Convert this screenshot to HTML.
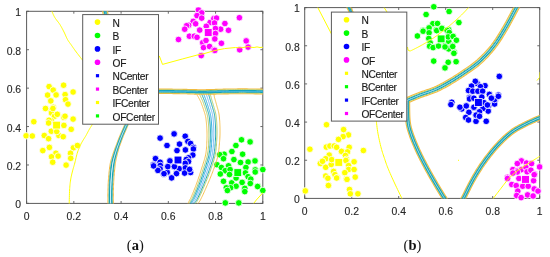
<!DOCTYPE html><html><head><meta charset="utf-8"><style>html,body{margin:0;padding:0;background:#fff;}svg{display:block;}text{font-family:"Liberation Sans",Arial,sans-serif;font-size:10.4px;fill:#262626;stroke:#262626;stroke-width:0.12px;}.lg{font-size:10.2px;letter-spacing:-0.32px;fill:#1a1a1a;stroke:#1a1a1a;stroke-width:0.15px;}.cap{font-family:"Liberation Serif","Times New Roman",serif;font-size:14.5px;fill:#111;stroke:none;}.cap tspan{font-weight:bold;}</style></head><body><svg width="550" height="257" viewBox="0 0 550 257"><defs><clipPath id="cL"><rect x="26.6" y="11.3" width="236.20000000000002" height="192.1"/></clipPath><clipPath id="cR"><rect x="304.7" y="7.6" width="235.00000000000006" height="190.8"/></clipPath><clipPath id="cLd"><rect x="22.6" y="7.300000000000001" width="244.20000000000002" height="200.1"/></clipPath><clipPath id="cRd"><rect x="300.7" y="3.5999999999999996" width="243.00000000000006" height="198.8"/></clipPath><clipPath id="cLb"><rect x="26.6" y="92" width="236.20000000000002" height="111.4"/></clipPath></defs><rect width="550" height="257" fill="#fff"/><rect x="26.6" y="11.3" width="236.20000000000002" height="192.1" fill="none" stroke="#5a5a5a" stroke-width="1.0"/><path d="M26.60,203.4v-2.4M26.60,11.3v2.4M26.6,203.40h2.4M262.8,203.40h-2.4M73.84,203.4v-2.4M73.84,11.3v2.4M26.6,164.98h2.4M262.8,164.98h-2.4M121.08,203.4v-2.4M121.08,11.3v2.4M26.6,126.56h2.4M262.8,126.56h-2.4M168.32,203.4v-2.4M168.32,11.3v2.4M26.6,88.14h2.4M262.8,88.14h-2.4M215.56,203.4v-2.4M215.56,11.3v2.4M26.6,49.72h2.4M262.8,49.72h-2.4M262.80,203.4v-2.4M262.80,11.3v2.4M26.6,11.30h2.4M262.8,11.30h-2.4" stroke="#5a5a5a" stroke-width="0.9" fill="none"/><text x="26.6" y="219.5" text-anchor="middle">0</text><text x="21.1" y="208.4" text-anchor="end">0</text><text x="73.8" y="219.5" text-anchor="middle">0.2</text><text x="21.1" y="170.0" text-anchor="end">0.2</text><text x="121.1" y="219.5" text-anchor="middle">0.4</text><text x="21.1" y="131.6" text-anchor="end">0.4</text><text x="168.3" y="219.5" text-anchor="middle">0.6</text><text x="21.1" y="93.1" text-anchor="end">0.6</text><text x="215.6" y="219.5" text-anchor="middle">0.8</text><text x="21.1" y="54.7" text-anchor="end">0.8</text><text x="262.8" y="219.5" text-anchor="middle">1</text><text x="21.1" y="16.3" text-anchor="end">1</text><g fill="#ffff00" stroke="#fff" stroke-width="0.8" clip-path="url(#cLd)"><circle cx="49.1" cy="86.6" r="3.3"/><circle cx="63.6" cy="85.2" r="3.3"/><circle cx="53.2" cy="90.1" r="3.3"/><circle cx="47.6" cy="95.1" r="3.3"/><circle cx="56.1" cy="94.9" r="3.3"/><circle cx="65.1" cy="94.6" r="3.3"/><circle cx="73.1" cy="92.0" r="3.3"/><circle cx="50.8" cy="100.9" r="3.3"/><circle cx="65.5" cy="99.7" r="3.3"/><circle cx="68.0" cy="104.1" r="3.3"/><circle cx="45.5" cy="108.5" r="3.3"/><circle cx="53.2" cy="107.3" r="3.3"/><circle cx="51.3" cy="111.4" r="3.3"/><circle cx="51.5" cy="113" r="3.3"/><circle cx="54.5" cy="116.3" r="3.3"/><circle cx="63.9" cy="117.4" r="3.3"/><circle cx="73.1" cy="119.1" r="3.3"/><circle cx="33.8" cy="121.7" r="3.3"/><circle cx="51.3" cy="120.7" r="3.3"/><circle cx="63.9" cy="125.4" r="3.3"/><circle cx="71.2" cy="129.3" r="3.3"/><circle cx="51.3" cy="131.2" r="3.3"/><circle cx="26.1" cy="135.8" r="3.3"/><circle cx="32.3" cy="136" r="3.3"/><circle cx="44.3" cy="135.5" r="3.3"/><circle cx="48.6" cy="138.7" r="3.3"/><circle cx="58.8" cy="135.5" r="3.3"/><circle cx="63.2" cy="136.7" r="3.3"/><circle cx="49.4" cy="147.4" r="3.3"/><circle cx="42.8" cy="150.6" r="3.3"/><circle cx="55.9" cy="153.2" r="3.3"/><circle cx="51.5" cy="156.8" r="3.3"/><circle cx="58.1" cy="156.1" r="3.3"/><circle cx="52.7" cy="162.2" r="3.3"/><circle cx="66.1" cy="165.1" r="3.3"/><circle cx="73.4" cy="147.8" r="3.3"/><circle cx="77.4" cy="145.5" r="3.3"/><circle cx="70.5" cy="153.2" r="3.3"/><circle cx="70.7" cy="158.3" r="3.3"/><circle cx="57.3" cy="114.3" r="3.3"/><circle cx="65" cy="116.2" r="3.3"/><circle cx="49" cy="120.2" r="3.3"/><circle cx="48.6" cy="123" r="3.3"/><circle cx="56.7" cy="131.5" r="3.3"/><circle cx="52.9" cy="108.5" r="3.3"/><rect x="52.7" y="121.2" width="7.8" height="7.8"/></g><g fill="#ff00ff" stroke="#fff" stroke-width="0.8" clip-path="url(#cLd)"><circle cx="198.4" cy="9.9" r="3.3"/><circle cx="201.7" cy="12.9" r="3.3"/><circle cx="197" cy="15.6" r="3.3"/><circle cx="201.7" cy="18.1" r="3.3"/><circle cx="193.2" cy="21.4" r="3.3"/><circle cx="195.6" cy="23.8" r="3.3"/><circle cx="188.6" cy="25.2" r="3.3"/><circle cx="186.6" cy="25.7" r="3.3"/><circle cx="184.7" cy="29.2" r="3.3"/><circle cx="210.1" cy="22.5" r="3.3"/><circle cx="199.7" cy="30.1" r="3.3"/><circle cx="206.3" cy="26.3" r="3.3"/><circle cx="213.9" cy="18.6" r="3.3"/><circle cx="216.5" cy="18.1" r="3.3"/><circle cx="214.5" cy="23" r="3.3"/><circle cx="224.9" cy="23.5" r="3.3"/><circle cx="239.4" cy="17.7" r="3.3"/><circle cx="220.6" cy="29.2" r="3.3"/><circle cx="228.5" cy="30.3" r="3.3"/><circle cx="215.4" cy="28.5" r="3.3"/><circle cx="189.4" cy="36.2" r="3.3"/><circle cx="178.5" cy="39.5" r="3.3"/><circle cx="194.3" cy="36.2" r="3.3"/><circle cx="197" cy="37.3" r="3.3"/><circle cx="202.7" cy="42.7" r="3.3"/><circle cx="203.5" cy="47.6" r="3.3"/><circle cx="209.5" cy="46.5" r="3.3"/><circle cx="213.9" cy="49.8" r="3.3"/><circle cx="201.2" cy="55.6" r="3.3"/><circle cx="215.4" cy="33.5" r="3.3"/><circle cx="214.8" cy="38.9" r="3.3"/><circle cx="206" cy="40.5" r="3.3"/><circle cx="221.4" cy="43.3" r="3.3"/><circle cx="214.8" cy="50.4" r="3.3"/><circle cx="239.7" cy="49.8" r="3.3"/><circle cx="246.2" cy="40.9" r="3.3"/><circle cx="248.1" cy="47.1" r="3.3"/><rect x="204.3" y="28.6" width="7.8" height="7.8"/></g><g fill="#0000ff" stroke="#fff" stroke-width="0.8" clip-path="url(#cLd)"><circle cx="160.1" cy="138.1" r="3.3"/><circle cx="174.1" cy="133.9" r="3.3"/><circle cx="185.2" cy="136.2" r="3.3"/><circle cx="187.9" cy="141.4" r="3.3"/><circle cx="190.6" cy="143.5" r="3.3"/><circle cx="193.4" cy="147.4" r="3.3"/><circle cx="167" cy="145.5" r="3.3"/><circle cx="179.5" cy="144.1" r="3.3"/><circle cx="177" cy="150.6" r="3.3"/><circle cx="185.4" cy="149.9" r="3.3"/><circle cx="193.4" cy="149" r="3.3"/><circle cx="192.8" cy="155.1" r="3.3"/><circle cx="188.5" cy="157.8" r="3.3"/><circle cx="186.3" cy="159.5" r="3.3"/><circle cx="188.5" cy="161.6" r="3.3"/><circle cx="185.2" cy="163.3" r="3.3"/><circle cx="155.5" cy="158.6" r="3.3"/><circle cx="153.3" cy="164.9" r="3.3"/><circle cx="160.1" cy="162.2" r="3.3"/><circle cx="160.3" cy="165.5" r="3.3"/><circle cx="160.1" cy="168.9" r="3.3"/><circle cx="169.9" cy="160.9" r="3.3"/><circle cx="167.7" cy="166.8" r="3.3"/><circle cx="174.3" cy="167.1" r="3.3"/><circle cx="179.2" cy="168.7" r="3.3"/><circle cx="185.4" cy="167.9" r="3.3"/><circle cx="190.6" cy="172.5" r="3.3"/><circle cx="184.6" cy="173.1" r="3.3"/><circle cx="176.5" cy="173.6" r="3.3"/><circle cx="167.2" cy="172.2" r="3.3"/><circle cx="163.9" cy="174.2" r="3.3"/><circle cx="157.9" cy="170.4" r="3.3"/><circle cx="153.6" cy="165.9" r="3.3"/><circle cx="167.8" cy="166.6" r="3.3"/><circle cx="164" cy="173.7" r="3.3"/><circle cx="171.6" cy="177.9" r="3.3"/><circle cx="174.4" cy="166.6" r="3.3"/><circle cx="189.6" cy="169.4" r="3.3"/><rect x="174.1" y="156.1" width="7.8" height="7.8"/></g><g fill="#00ff00" stroke="#fff" stroke-width="0.8" clip-path="url(#cLd)"><circle cx="241.5" cy="139.8" r="3.3"/><circle cx="250.1" cy="141.9" r="3.3"/><circle cx="235.9" cy="145.5" r="3.3"/><circle cx="231.9" cy="151.5" r="3.3"/><circle cx="224.1" cy="154.2" r="3.3"/><circle cx="242.6" cy="154.2" r="3.3"/><circle cx="219.7" cy="154.7" r="3.3"/><circle cx="223.5" cy="158.7" r="3.3"/><circle cx="233.9" cy="159.6" r="3.3"/><circle cx="240.5" cy="162.5" r="3.3"/><circle cx="248.1" cy="162" r="3.3"/><circle cx="255" cy="160.9" r="3.3"/><circle cx="217" cy="164.7" r="3.3"/><circle cx="221.4" cy="167.5" r="3.3"/><circle cx="228.5" cy="165.8" r="3.3"/><circle cx="225.2" cy="170.7" r="3.3"/><circle cx="230.1" cy="169.6" r="3.3"/><circle cx="220.3" cy="174" r="3.3"/><circle cx="229.5" cy="174.5" r="3.3"/><circle cx="245.9" cy="167.5" r="3.3"/><circle cx="255.2" cy="169.9" r="3.3"/><circle cx="262.8" cy="169.6" r="3.3"/><circle cx="245.4" cy="172.9" r="3.3"/><circle cx="248.1" cy="176.7" r="3.3"/><circle cx="223.5" cy="181.3" r="3.3"/><circle cx="231.7" cy="182.9" r="3.3"/><circle cx="236.1" cy="186.2" r="3.3"/><circle cx="230.6" cy="187.8" r="3.3"/><circle cx="226.3" cy="187.8" r="3.3"/><circle cx="227.4" cy="190.5" r="3.3"/><circle cx="242.1" cy="182.4" r="3.3"/><circle cx="244.8" cy="188.4" r="3.3"/><circle cx="244.8" cy="191.6" r="3.3"/><circle cx="250.8" cy="179.1" r="3.3"/><circle cx="250.3" cy="183.5" r="3.3"/><circle cx="257.9" cy="186.2" r="3.3"/><circle cx="262.8" cy="190.5" r="3.3"/><circle cx="236.1" cy="178" r="3.3"/><circle cx="255.2" cy="172" r="3.3"/><circle cx="257.6" cy="186.5" r="3.3"/><circle cx="225.3" cy="202.9" r="3.3"/><circle cx="238.8" cy="202.9" r="3.3"/><rect x="233.9" y="168.7" width="7.8" height="7.8"/></g><path d="M51.60,10.60 L51.83,11.13 L52.13,11.84 L52.48,12.68 L52.88,13.61 L53.32,14.60 L53.79,15.61 L54.29,16.59 L54.80,17.50 L55.35,18.37 L55.96,19.23 L56.62,20.10 L57.29,20.96 L57.98,21.83 L58.65,22.71 L59.30,23.60 L59.90,24.50 L60.46,25.41 L61.01,26.34 L61.54,27.28 L62.05,28.22 L62.55,29.17 L63.04,30.11 L63.52,31.06 L64.00,32.00 L64.46,32.95 L64.91,33.91 L65.33,34.89 L65.76,35.86 L66.18,36.81 L66.60,37.74 L67.04,38.64 L67.50,39.50 L67.98,40.31 L68.46,41.07 L68.96,41.80 L69.47,42.51 L69.98,43.21 L70.49,43.90 L71.00,44.59 L71.50,45.30 L71.98,45.99 L72.42,46.64 L72.85,47.28 L73.29,47.92 L73.76,48.59 L74.27,49.31 L74.84,50.11 L75.50,51.00 L76.30,52.07 L77.26,53.33 L78.32,54.70 L79.40,56.11 L80.45,57.47 L81.41,58.70 L82.21,59.74 L82.80,60.50 M159.3,55.9 L162.5,64.4 L182.7,58.9 L198,54.8 L205,53.4 L214.8,50.5 L224.6,48.6 L235.5,47.5 L240,47.9 L244,47.4 L248.1,46.5 L251,47.3 L254.1,47.5 L257,46.9 L260,47.5 L264,47.1 M93.00,123.50 L92.73,123.92 L92.37,124.46 L91.94,125.12 L91.47,125.84 L90.97,126.62 L90.46,127.43 L89.96,128.23 L89.50,129.00 L89.07,129.76 L88.65,130.53 L88.24,131.31 L87.82,132.11 L87.39,132.93 L86.95,133.77 L86.49,134.62 L86.00,135.50 L85.47,136.40 L84.91,137.31 L84.32,138.25 L83.72,139.21 L83.11,140.18 L82.52,141.17 L81.94,142.18 L81.40,143.20 L80.88,144.23 L80.37,145.27 L79.87,146.32 L79.39,147.39 L78.92,148.49 L78.46,149.62 L78.02,150.79 L77.60,152.00 L77.20,153.28 L76.82,154.64 L76.46,156.05 L76.12,157.49 L75.78,158.92 L75.46,160.34 L75.13,161.71 L74.80,163.00 L74.47,164.23 L74.14,165.41 L73.81,166.57 L73.48,167.69 L73.17,168.79 L72.86,169.87 L72.57,170.94 L72.30,172.00 L72.04,173.03 L71.80,174.02 L71.57,174.99 L71.36,175.94 L71.15,176.90 L70.96,177.88 L70.77,178.91 L70.60,180.00 L70.44,181.13 L70.29,182.27 L70.15,183.43 L70.02,184.62 L69.90,185.87 L69.79,187.17 L69.69,188.54 L69.60,190.00 L69.52,191.65 L69.45,193.55 L69.39,195.57 L69.34,197.62 L69.29,199.60 L69.26,201.39 L69.23,202.89 L69.20,204.00 M253.6,203.5 L256.3,200 L263.9,191.6" fill="none" stroke="#ffff00" stroke-width="1.0" clip-path="url(#cL)"/><g fill="none" clip-path="url(#cL)" stroke-linejoin="round"><path d="M106.67,5.65L106.72,5.94L106.77,6.30L106.83,6.73L106.90,7.21L106.98,7.72L107.06,8.27L107.15,8.84L107.23,9.42L107.32,10.00L107.41,10.57L107.49,11.11L107.57,11.62L107.65,12.14L107.74,12.68L107.83,13.25L107.93,13.83L108.03,14.41L108.12,14.98L108.22,15.53L108.30,16.04L108.38,16.52L108.46,16.95L108.52,17.31L108.57,17.60" stroke="#f5bb3f" stroke-width="1.1"/><path d="M101.93,6.35L101.97,6.64L102.02,7.00L102.08,7.43L102.16,7.91L102.23,8.43L102.31,8.98L102.40,9.55L102.49,10.13L102.57,10.72L102.66,11.29L102.75,11.85L102.83,12.38L102.91,12.90L103.00,13.46L103.10,14.03L103.20,14.62L103.29,15.20L103.39,15.77L103.48,16.33L103.57,16.85L103.65,17.32L103.72,17.75L103.78,18.11L103.83,18.40" stroke="#f5bb3f" stroke-width="1.1"/><path d="M105.77,5.78L105.82,6.07L105.87,6.44L105.93,6.86L106.00,7.34L106.08,7.86L106.16,8.41L106.24,8.98L106.33,9.56L106.42,10.14L106.50,10.71L106.59,11.25L106.67,11.77L106.75,12.28L106.84,12.83L106.93,13.40L107.03,13.98L107.13,14.56L107.22,15.13L107.32,15.68L107.40,16.20L107.49,16.67L107.56,17.10L107.62,17.46L107.67,17.75" stroke="#a6cb62" stroke-width="1.0"/><path d="M102.83,6.22L102.87,6.51L102.92,6.87L102.99,7.29L103.06,7.77L103.13,8.29L103.22,8.84L103.30,9.42L103.39,10.00L103.48,10.58L103.56,11.16L103.65,11.71L103.73,12.23L103.81,12.76L103.90,13.31L104.00,13.88L104.10,14.47L104.19,15.05L104.29,15.62L104.38,16.17L104.47,16.69L104.55,17.17L104.62,17.60L104.68,17.96L104.73,18.25" stroke="#a6cb62" stroke-width="1.0"/><path d="M105.01,5.89L105.06,6.18L105.11,6.55L105.17,6.97L105.24,7.45L105.32,7.97L105.40,8.52L105.48,9.09L105.57,9.67L105.66,10.25L105.75,10.82L105.83,11.37L105.91,11.89L105.99,12.40L106.08,12.95L106.18,13.52L106.27,14.10L106.37,14.68L106.47,15.26L106.56,15.81L106.65,16.32L106.73,16.80L106.80,17.23L106.86,17.59L106.91,17.88" stroke="#17a3b5" stroke-width="1.2"/><path d="M103.59,6.11L103.63,6.40L103.68,6.76L103.75,7.18L103.82,7.66L103.89,8.18L103.98,8.73L104.06,9.30L104.15,9.88L104.23,10.47L104.32,11.04L104.41,11.59L104.49,12.11L104.57,12.63L104.66,13.19L104.76,13.76L104.85,14.34L104.95,14.92L105.05,15.49L105.14,16.05L105.23,16.56L105.31,17.04L105.38,17.47L105.44,17.83L105.49,18.12" stroke="#17a3b5" stroke-width="1.2"/><path d="M104.30,6.00L104.34,6.29L104.40,6.65L104.46,7.08L104.53,7.56L104.61,8.07L104.69,8.62L104.77,9.20L104.86,9.78L104.95,10.36L105.03,10.93L105.12,11.48L105.20,12.00L105.28,12.52L105.37,13.07L105.47,13.64L105.56,14.22L105.66,14.80L105.76,15.38L105.85,15.93L105.94,16.44L106.02,16.92L106.09,17.35L106.15,17.71L106.20,18.00" stroke="#2eaee0" stroke-width="0.9"/></g><g fill="none" clip-path="url(#cL)" stroke-linejoin="round"><path d="M129.65,119.42L129.59,119.64L129.53,119.90L129.46,120.23L129.38,120.60L129.29,121.02L129.19,121.49L129.06,121.99L128.92,122.54L128.75,123.13L128.56,123.75L128.34,124.41L128.09,125.10L127.81,125.83L127.49,126.61L127.14,127.43L126.77,128.29L126.38,129.18L125.97,130.10L125.56,131.03L125.14,131.96L124.73,132.90L124.33,133.83L123.94,134.75L123.57,135.64L123.22,136.54L122.87,137.45L122.51,138.37L122.16,139.30L121.80,140.23L121.45,141.16L121.11,142.09L120.77,143.01L120.44,143.92L120.11,144.83L119.80,145.72L119.50,146.60L119.23,147.47L118.96,148.34L118.70,149.20L118.45,150.06L118.20,150.90L117.97,151.74L117.74,152.57L117.52,153.39L117.30,154.20L117.10,155.00L116.91,155.80L116.72,156.59L116.54,157.36L116.38,158.09L116.23,158.78L116.08,159.44L115.95,160.09L115.83,160.74L115.71,161.40L115.60,162.08L115.49,162.81L115.39,163.59L115.28,164.44L115.17,165.37L115.04,166.39L114.91,167.48L114.77,168.64L114.64,169.85L114.52,171.10L114.39,172.39L114.28,173.69L114.16,175.01L114.06,176.33L113.96,177.64L113.87,178.93L113.79,180.18L113.72,181.42L113.66,182.67L113.60,183.94L113.55,185.22L113.50,186.50L113.47,187.77L113.44,189.03L113.41,190.28L113.39,191.51L113.37,192.72L113.36,193.89L113.35,195.03L113.34,196.15L113.35,197.30L113.36,198.46L113.37,199.62L113.39,200.76L113.42,201.87L113.44,202.93L113.47,203.92L113.50,204.84L113.52,205.66L113.54,206.37L113.55,206.94" stroke="#f5bb3f" stroke-width="1.0"/><path d="M126.35,118.58L126.28,118.86L126.21,119.18L126.14,119.52L126.06,119.88L125.97,120.28L125.88,120.70L125.77,121.16L125.64,121.64L125.49,122.16L125.32,122.71L125.13,123.29L124.91,123.90L124.65,124.57L124.35,125.30L124.02,126.09L123.65,126.93L123.27,127.81L122.86,128.72L122.45,129.65L122.03,130.59L121.62,131.54L121.20,132.49L120.81,133.44L120.43,134.36L120.05,135.27L119.68,136.18L119.30,137.11L118.93,138.04L118.55,138.97L118.18,139.91L117.82,140.84L117.46,141.77L117.11,142.69L116.76,143.61L116.43,144.51L116.10,145.40L115.76,146.27L115.43,147.13L115.10,147.98L114.78,148.83L114.47,149.67L114.16,150.51L113.86,151.34L113.57,152.17L113.28,152.99L113.00,153.80L112.74,154.61L112.48,155.41L112.24,156.17L112.00,156.89L111.78,157.58L111.57,158.26L111.36,158.95L111.16,159.64L110.96,160.35L110.77,161.10L110.58,161.89L110.39,162.73L110.21,163.64L110.03,164.63L109.87,165.69L109.71,166.83L109.56,168.02L109.41,169.26L109.26,170.55L109.12,171.86L108.98,173.20L108.85,174.54L108.73,175.89L108.61,177.22L108.50,178.54L108.41,179.82L108.32,181.10L108.25,182.39L108.18,183.70L108.12,185.00L108.07,186.31L108.02,187.61L107.98,188.89L107.95,190.16L107.92,191.41L107.89,192.63L107.87,193.82L107.85,194.97L107.84,196.14L107.85,197.33L107.86,198.52L107.87,199.71L107.89,200.88L107.92,202.00L107.95,203.07L107.97,204.08L108.00,204.99L108.02,205.80L108.04,206.49L108.05,207.06" stroke="#f5bb3f" stroke-width="1.0"/><path d="M129.02,119.26L128.96,119.49L128.90,119.77L128.83,120.09L128.75,120.46L128.66,120.88L128.56,121.34L128.44,121.83L128.29,122.37L128.13,122.94L127.94,123.55L127.73,124.19L127.49,124.87L127.21,125.59L126.89,126.36L126.55,127.18L126.18,128.03L125.79,128.92L125.38,129.83L124.97,130.76L124.55,131.70L124.14,132.64L123.74,133.58L123.35,134.50L122.98,135.40L122.62,136.30L122.26,137.21L121.90,138.13L121.54,139.06L121.19,139.99L120.83,140.92L120.48,141.85L120.14,142.77L119.80,143.69L119.48,144.60L119.16,145.49L118.85,146.37L118.57,147.25L118.29,148.11L118.02,148.97L117.75,149.82L117.49,150.67L117.24,151.51L117.00,152.33L116.77,153.16L116.54,153.97L116.32,154.77L116.11,155.57L115.91,156.36L115.73,157.13L115.55,157.86L115.38,158.55L115.23,159.22L115.08,159.87L114.94,160.53L114.81,161.20L114.68,161.90L114.56,162.64L114.44,163.43L114.32,164.29L114.20,165.23L114.06,166.26L113.92,167.36L113.78,168.52L113.65,169.74L113.52,171.00L113.39,172.29L113.27,173.60L113.15,174.92L113.05,176.25L112.94,177.56L112.85,178.85L112.77,180.11L112.69,181.36L112.63,182.62L112.57,183.90L112.52,185.18L112.47,186.46L112.43,187.74L112.40,189.01L112.37,190.26L112.35,191.49L112.33,192.70L112.32,193.88L112.30,195.02L112.30,196.15L112.30,197.30L112.31,198.47L112.33,199.64L112.35,200.79L112.37,201.90L112.40,202.96L112.43,203.95L112.45,204.87L112.47,205.68L112.49,206.39L112.50,206.96" stroke="#5cb89a" stroke-width="0.9"/><path d="M126.98,118.74L126.91,119.01L126.84,119.31L126.77,119.65L126.69,120.02L126.60,120.42L126.51,120.85L126.39,121.32L126.26,121.81L126.11,122.35L125.94,122.91L125.74,123.50L125.51,124.13L125.25,124.81L124.95,125.55L124.61,126.35L124.25,127.19L123.86,128.07L123.46,128.98L123.04,129.91L122.62,130.85L122.21,131.80L121.80,132.75L121.40,133.69L121.02,134.60L120.65,135.51L120.28,136.42L119.91,137.35L119.54,138.28L119.17,139.21L118.81,140.14L118.44,141.08L118.09,142.00L117.74,142.93L117.40,143.84L117.07,144.74L116.75,145.63L116.42,146.50L116.10,147.36L115.79,148.21L115.48,149.06L115.18,149.91L114.88,150.74L114.60,151.58L114.32,152.40L114.05,153.22L113.78,154.03L113.53,154.84L113.29,155.64L113.05,156.40L112.84,157.12L112.63,157.81L112.43,158.49L112.23,159.16L112.05,159.85L111.86,160.55L111.69,161.29L111.51,162.07L111.34,162.90L111.17,163.79L111.00,164.77L110.85,165.82L110.70,166.95L110.55,168.14L110.40,169.38L110.26,170.65L110.12,171.96L109.99,173.29L109.86,174.63L109.74,175.97L109.63,177.30L109.52,178.61L109.43,179.89L109.35,181.16L109.27,182.45L109.21,183.74L109.15,185.04L109.10,186.34L109.06,187.64L109.02,188.92L108.98,190.18L108.96,191.43L108.93,192.65L108.91,193.83L108.90,194.98L108.89,196.14L108.89,197.32L108.90,198.51L108.92,199.69L108.94,200.86L108.96,201.98L108.99,203.05L109.02,204.05L109.04,204.96L109.07,205.77L109.08,206.47L109.10,207.04" stroke="#5cb89a" stroke-width="0.9"/><path d="M128.59,119.15L128.53,119.39L128.47,119.67L128.40,120.00L128.32,120.37L128.23,120.78L128.13,121.23L128.01,121.73L127.87,122.25L127.71,122.82L127.52,123.42L127.31,124.05L127.07,124.71L126.80,125.42L126.49,126.19L126.14,127.00L125.77,127.86L125.38,128.74L124.98,129.65L124.57,130.58L124.15,131.52L123.74,132.47L123.33,133.40L122.94,134.33L122.57,135.23L122.21,136.13L121.85,137.04L121.48,137.97L121.12,138.89L120.76,139.82L120.41,140.76L120.06,141.69L119.71,142.61L119.37,143.53L119.04,144.44L118.72,145.33L118.41,146.22L118.12,147.09L117.83,147.95L117.55,148.81L117.27,149.67L117.01,150.51L116.75,151.35L116.50,152.18L116.25,153.00L116.02,153.81L115.79,154.62L115.57,155.42L115.36,156.21L115.17,156.98L114.98,157.70L114.80,158.39L114.64,159.06L114.48,159.72L114.33,160.39L114.19,161.06L114.06,161.77L113.92,162.52L113.79,163.32L113.66,164.19L113.53,165.13L113.38,166.17L113.24,167.27L113.10,168.44L112.97,169.66L112.83,170.92L112.71,172.22L112.58,173.54L112.46,174.86L112.35,176.19L112.25,177.51L112.15,178.80L112.07,180.06L111.99,181.32L111.92,182.59L111.86,183.86L111.81,185.15L111.76,186.44L111.72,187.72L111.69,188.99L111.66,190.24L111.64,191.48L111.62,192.69L111.60,193.87L111.59,195.01L111.58,196.15L111.59,197.31L111.60,198.48L111.61,199.65L111.63,200.80L111.66,201.91L111.69,202.98L111.71,203.97L111.74,204.89L111.76,205.70L111.78,206.41L111.79,206.98" stroke="#17a3b5" stroke-width="1.3"/><path d="M127.41,118.85L127.34,119.11L127.27,119.41L127.20,119.74L127.12,120.11L127.04,120.51L126.94,120.95L126.82,121.42L126.69,121.93L126.53,122.47L126.36,123.04L126.16,123.65L125.93,124.29L125.66,124.97L125.36,125.72L125.02,126.52L124.65,127.37L124.26,128.25L123.86,129.16L123.45,130.09L123.03,131.03L122.61,131.98L122.20,132.92L121.81,133.86L121.43,134.77L121.07,135.67L120.70,136.59L120.33,137.51L119.96,138.44L119.59,139.37L119.23,140.31L118.87,141.24L118.52,142.17L118.17,143.09L117.84,144.00L117.51,144.90L117.19,145.78L116.87,146.65L116.56,147.52L116.25,148.37L115.95,149.22L115.66,150.07L115.38,150.90L115.10,151.73L114.83,152.56L114.57,153.38L114.32,154.19L114.07,154.99L113.84,155.79L113.61,156.55L113.40,157.27L113.20,157.97L113.01,158.64L112.83,159.31L112.65,159.99L112.48,160.69L112.32,161.42L112.15,162.19L111.99,163.01L111.83,163.90L111.67,164.87L111.52,165.91L111.37,167.04L111.23,168.22L111.08,169.45L110.94,170.73L110.81,172.03L110.68,173.36L110.55,174.69L110.43,176.03L110.32,177.36L110.22,178.66L110.13,179.94L110.05,181.20L109.98,182.48L109.91,183.78L109.86,185.07L109.81,186.37L109.76,187.66L109.73,188.94L109.69,190.20L109.67,191.44L109.64,192.66L109.63,193.84L109.61,194.99L109.60,196.14L109.61,197.32L109.62,198.50L109.63,199.68L109.65,200.84L109.68,201.96L109.71,203.03L109.73,204.03L109.76,204.94L109.78,205.76L109.80,206.45L109.81,207.02" stroke="#17a3b5" stroke-width="1.3"/><path d="M128.00,119.00L127.94,119.25L127.87,119.54L127.80,119.87L127.72,120.24L127.63,120.65L127.53,121.09L127.41,121.58L127.28,122.09L127.12,122.64L126.94,123.23L126.73,123.85L126.50,124.50L126.23,125.20L125.92,125.95L125.58,126.76L125.21,127.61L124.82,128.50L124.42,129.41L124.01,130.34L123.59,131.28L123.17,132.22L122.77,133.16L122.37,134.09L122.00,135.00L121.64,135.90L121.27,136.82L120.91,137.74L120.54,138.67L120.18,139.60L119.82,140.53L119.46,141.46L119.11,142.39L118.77,143.31L118.44,144.22L118.11,145.12L117.80,146.00L117.49,146.87L117.19,147.74L116.90,148.59L116.61,149.44L116.34,150.29L116.06,151.12L115.80,151.95L115.54,152.78L115.29,153.59L115.05,154.40L114.82,155.20L114.60,156.00L114.39,156.77L114.19,157.49L114.00,158.18L113.83,158.85L113.66,159.52L113.49,160.19L113.34,160.88L113.19,161.59L113.04,162.35L112.89,163.16L112.75,164.04L112.60,165.00L112.45,166.04L112.31,167.15L112.17,168.33L112.03,169.56L111.89,170.82L111.76,172.12L111.63,173.45L111.51,174.78L111.39,176.11L111.29,177.43L111.19,178.73L111.10,180.00L111.02,181.26L110.95,182.53L110.89,183.82L110.83,185.11L110.79,186.40L110.74,187.69L110.71,188.96L110.68,190.22L110.65,191.46L110.63,192.67L110.61,193.86L110.60,195.00L110.59,196.14L110.60,197.31L110.61,198.49L110.62,199.67L110.64,200.82L110.67,201.94L110.70,203.00L110.72,204.00L110.75,204.91L110.77,205.73L110.79,206.43L110.80,207.00" stroke="#d8f1fa" stroke-width="0.9"/></g><g fill="none" clip-path="url(#cLb)" stroke-linejoin="round"><path d="M197.04,95.03L197.27,95.34L197.53,95.74L197.81,96.19L198.10,96.71L198.42,97.28L198.74,97.88L199.08,98.51L199.42,99.16L199.76,99.82L200.10,100.47L200.43,101.11L200.75,101.73L201.00,102.39L201.24,103.07L201.50,103.76L201.75,104.46L202.00,105.16L202.26,105.86L202.51,106.56L202.76,107.26L203.00,107.95L203.23,108.63L203.46,109.29L203.68,109.96L203.90,110.66L204.12,111.35L204.33,111.99L204.53,112.59L204.71,113.15L204.88,113.69L205.03,114.21L205.18,114.72L205.31,115.25L205.44,115.80L205.56,116.40L205.68,117.05L205.81,117.78L205.93,118.59L206.04,119.46L206.15,120.37L206.26,121.31L206.36,122.28L206.45,123.28L206.54,124.28L206.61,125.29L206.68,126.29L206.75,127.28L206.80,128.25L206.85,129.20L206.90,130.14L206.94,131.05L206.97,131.96L206.99,132.87L207.01,133.78L207.01,134.69L207.01,135.62L207.00,136.58L206.98,137.56L206.95,138.57L206.91,139.64L206.87,140.78L206.83,141.96L206.78,143.16L206.73,144.36L206.67,145.57L206.60,146.79L206.52,148.00L206.42,149.20L206.30,150.38L206.16,151.54L206.01,152.68L205.82,153.79L205.61,154.89L205.36,156.01L205.08,157.14L204.78,158.30L204.45,159.48L204.10,160.67L203.72,161.87L203.34,163.10L202.94,164.34L202.53,165.59L202.12,166.85L201.71,168.12L201.34,169.37L200.95,170.62L200.55,171.89L200.15,173.15L199.73,174.42L199.31,175.69L198.89,176.96L198.46,178.21L198.04,179.45L197.61,180.68L197.19,181.89L196.77,183.07L196.34,184.24L195.89,185.43L195.43,186.63L194.97,187.82L194.51,189.00L194.06,190.15L193.61,191.27L193.18,192.34L192.76,193.35L192.37,194.28L192.01,195.14L191.69,195.88L191.45,196.49L191.24,196.97L191.07,197.37L190.91,197.72L190.76,198.02L190.61,198.32L190.44,198.63L190.23,198.99L189.99,199.40L189.72,199.88L189.44,200.41L189.17,200.98L188.90,201.53L188.65,202.07L188.42,202.61L188.19,203.15L187.97,203.68L187.77,204.19L187.58,204.68L187.40,205.13L187.25,205.54L187.12,205.89L187.02,206.18L186.94,206.41" stroke="#f5bb3f" stroke-width="0.9"/><path d="M199.41,94.24L199.60,94.56L199.83,94.96L200.07,95.43L200.34,95.96L200.62,96.54L200.91,97.15L201.22,97.80L201.52,98.46L201.83,99.13L202.14,99.80L202.45,100.45L202.74,101.08L202.97,101.74L203.21,102.43L203.46,103.12L203.71,103.82L203.96,104.53L204.20,105.24L204.45,105.94L204.69,106.65L204.93,107.35L205.16,108.04L205.38,108.71L205.60,109.39L205.82,110.09L206.03,110.76L206.23,111.40L206.43,112.00L206.61,112.58L206.79,113.14L206.95,113.69L207.10,114.24L207.24,114.81L207.38,115.41L207.51,116.05L207.63,116.74L207.75,117.52L207.87,118.35L207.99,119.24L208.10,120.17L208.20,121.14L208.30,122.13L208.38,123.14L208.47,124.16L208.54,125.18L208.61,126.19L208.67,127.19L208.72,128.18L208.76,129.14L208.80,130.09L208.84,131.02L208.86,131.94L208.88,132.86L208.89,133.79L208.89,134.72L208.89,135.67L208.87,136.64L208.85,137.63L208.81,138.66L208.76,139.74L208.72,140.89L208.67,142.07L208.61,143.27L208.56,144.48L208.49,145.71L208.41,146.94L208.32,148.17L208.21,149.40L208.08,150.61L207.93,151.81L207.75,152.99L207.56,154.14L207.33,155.28L207.06,156.44L206.77,157.61L206.45,158.79L206.10,159.99L205.74,161.20L205.35,162.42L204.96,163.65L204.55,164.89L204.14,166.14L203.72,167.40L203.30,168.66L202.91,169.92L202.51,171.17L202.10,172.44L201.67,173.71L201.24,174.98L200.81,176.25L200.37,177.52L199.92,178.77L199.48,180.01L199.04,181.24L198.60,182.45L198.17,183.63L197.73,184.80L197.27,185.99L196.80,187.19L196.33,188.39L195.85,189.57L195.39,190.73L194.93,191.84L194.49,192.92L194.06,193.93L193.66,194.87L193.28,195.74L192.94,196.49L192.67,197.13L192.42,197.65L192.21,198.08L192.02,198.45L191.83,198.78L191.65,199.09L191.46,199.41L191.24,199.75L191.00,200.14L190.75,200.57L190.48,201.05L190.22,201.57L189.97,202.08L189.72,202.60L189.49,203.12L189.26,203.64L189.04,204.16L188.83,204.66L188.64,205.14L188.47,205.59L188.31,205.99L188.17,206.35L188.06,206.64L187.97,206.87" stroke="#a6cb62" stroke-width="0.9"/><path d="M201.37,93.58L201.53,93.91L201.73,94.32L201.95,94.80L202.19,95.34L202.44,95.92L202.71,96.55L202.99,97.20L203.27,97.88L203.55,98.56L203.84,99.24L204.11,99.90L204.38,100.55L204.61,101.21L204.85,101.89L205.08,102.59L205.33,103.29L205.57,104.00L205.81,104.72L206.06,105.43L206.30,106.15L206.53,106.85L206.76,107.55L206.98,108.24L207.19,108.92L207.40,109.61L207.61,110.27L207.81,110.91L208.00,111.51L208.19,112.10L208.36,112.68L208.53,113.25L208.69,113.84L208.84,114.45L208.98,115.08L209.12,115.76L209.24,116.49L209.37,117.29L209.49,118.16L209.60,119.07L209.71,120.01L209.81,121.00L209.90,122.00L209.98,123.02L210.06,124.05L210.13,125.09L210.20,126.11L210.25,127.12L210.30,128.12L210.34,129.09L210.38,130.05L210.41,130.99L210.43,131.92L210.44,132.86L210.45,133.80L210.45,134.74L210.44,135.71L210.42,136.69L210.39,137.70L210.35,138.74L210.30,139.83L210.24,140.97L210.19,142.15L210.13,143.36L210.06,144.58L209.99,145.82L209.90,147.07L209.80,148.32L209.69,149.56L209.55,150.80L209.39,152.03L209.20,153.24L208.99,154.43L208.75,155.61L208.47,156.80L208.16,158.00L207.83,159.20L207.47,160.42L207.10,161.64L206.70,162.87L206.30,164.11L205.88,165.35L205.46,166.60L205.04,167.86L204.62,169.12L204.22,170.37L203.80,171.63L203.37,172.90L202.94,174.17L202.49,175.45L202.04,176.72L201.59,177.98L201.13,179.24L200.68,180.48L200.23,181.71L199.78,182.91L199.33,184.09L198.87,185.27L198.41,186.46L197.93,187.66L197.45,188.86L196.97,190.04L196.49,191.20L196.02,192.32L195.57,193.40L195.13,194.41L194.72,195.36L194.33,196.23L193.98,197.00L193.67,197.66L193.40,198.20L193.16,198.67L192.93,199.06L192.72,199.41L192.51,199.74L192.30,200.06L192.08,200.39L191.84,200.75L191.59,201.14L191.34,201.58L191.10,202.05L190.85,202.54L190.61,203.04L190.37,203.54L190.15,204.05L189.93,204.56L189.72,205.05L189.52,205.52L189.34,205.96L189.18,206.37L189.04,206.72L188.92,207.02L188.83,207.25" stroke="#17a3b5" stroke-width="1.0"/><path d="M203.24,92.95L203.38,93.29L203.55,93.71L203.75,94.19L203.96,94.74L204.19,95.34L204.43,95.97L204.69,96.64L204.94,97.32L205.20,98.01L205.46,98.70L205.71,99.38L205.96,100.04L206.18,100.70L206.41,101.38L206.64,102.08L206.88,102.78L207.12,103.50L207.36,104.22L207.60,104.94L207.83,105.66L208.06,106.38L208.29,107.08L208.50,107.78L208.71,108.47L208.92,109.15L209.12,109.80L209.32,110.43L209.51,111.04L209.70,111.64L209.88,112.24L210.05,112.84L210.21,113.46L210.37,114.10L210.52,114.77L210.66,115.48L210.79,116.25L210.91,117.08L211.03,117.97L211.14,118.90L211.25,119.86L211.34,120.86L211.43,121.88L211.52,122.91L211.59,123.95L211.66,125.00L211.72,126.03L211.77,127.06L211.82,128.06L211.86,129.04L211.89,130.01L211.91,130.96L211.93,131.91L211.94,132.85L211.95,133.80L211.94,134.76L211.93,135.74L211.90,136.74L211.87,137.76L211.82,138.82L211.77,139.91L211.71,141.06L211.65,142.24L211.58,143.45L211.51,144.68L211.43,145.93L211.34,147.19L211.23,148.45L211.10,149.72L210.96,150.99L210.79,152.24L210.59,153.49L210.37,154.71L210.11,155.92L209.82,157.14L209.50,158.36L209.15,159.59L208.78,160.82L208.40,162.06L208.00,163.30L207.58,164.54L207.16,165.79L206.73,167.04L206.31,168.30L205.88,169.55L205.46,170.80L205.03,172.07L204.59,173.34L204.14,174.61L203.69,175.89L203.23,177.16L202.76,178.43L202.29,179.68L201.83,180.93L201.36,182.15L200.90,183.36L200.44,184.54L199.98,185.71L199.50,186.91L199.01,188.11L198.52,189.31L198.03,190.49L197.55,191.65L197.07,192.78L196.61,193.85L196.16,194.88L195.73,195.83L195.33,196.71L194.97,197.49L194.64,198.17L194.34,198.74L194.06,199.23L193.81,199.65L193.57,200.02L193.33,200.36L193.11,200.68L192.88,201.00L192.64,201.33L192.41,201.69L192.17,202.08L191.93,202.52L191.69,202.98L191.45,203.45L191.22,203.95L190.99,204.44L190.78,204.94L190.57,205.42L190.37,205.89L190.18,206.33L190.02,206.73L189.87,207.08L189.75,207.38L189.65,207.62" stroke="#2eaee0" stroke-width="1.0"/><path d="M205.61,92.16L205.72,92.51L205.85,92.93L206.02,93.43L206.20,93.99L206.39,94.60L206.61,95.24L206.83,95.92L207.05,96.62L207.28,97.32L207.51,98.02L207.73,98.72L207.94,99.39L208.16,100.05L208.38,100.74L208.61,101.43L208.84,102.15L209.07,102.87L209.30,103.59L209.54,104.32L209.77,105.05L209.99,105.78L210.21,106.50L210.43,107.21L210.63,107.90L210.83,108.57L211.03,109.21L211.22,109.84L211.41,110.45L211.60,111.07L211.79,111.69L211.96,112.32L212.14,112.97L212.30,113.65L212.45,114.37L212.60,115.13L212.74,115.95L212.86,116.81L212.98,117.73L213.09,118.68L213.19,119.67L213.28,120.69L213.37,121.72L213.45,122.77L213.52,123.83L213.59,124.89L213.64,125.94L213.69,126.97L213.73,127.99L213.76,128.98L213.79,129.96L213.81,130.92L213.83,131.89L213.83,132.85L213.83,133.81L213.82,134.79L213.80,135.79L213.77,136.80L213.73,137.84L213.68,138.91L213.62,140.02L213.55,141.16L213.48,142.34L213.41,143.56L213.33,144.80L213.24,146.06L213.14,147.34L213.03,148.63L212.89,149.92L212.73,151.22L212.55,152.51L212.34,153.79L212.10,155.06L211.82,156.32L211.52,157.57L211.18,158.83L210.82,160.08L210.44,161.34L210.04,162.59L209.63,163.84L209.20,165.10L208.77,166.35L208.34,167.60L207.90,168.84L207.47,170.09L207.04,171.35L206.59,172.62L206.14,173.89L205.67,175.17L205.20,176.45L204.72,177.72L204.24,178.99L203.76,180.25L203.27,181.49L202.79,182.71L202.31,183.92L201.84,185.10L201.37,186.28L200.88,187.47L200.38,188.68L199.88,189.88L199.38,191.06L198.88,192.22L198.39,193.35L197.91,194.43L197.45,195.46L197.02,196.42L196.60,197.31L196.22,198.11L195.86,198.81L195.52,199.41L195.21,199.93L194.91,200.39L194.64,200.78L194.37,201.13L194.12,201.46L193.88,201.76L193.65,202.06L193.43,202.38L193.21,202.72L192.98,203.10L192.75,203.53L192.52,203.98L192.29,204.45L192.07,204.94L191.85,205.42L191.63,205.89L191.43,206.35L191.25,206.78L191.07,207.18L190.92,207.53L190.79,207.84L190.68,208.08" stroke="#5fa8f0" stroke-width="0.8"/><path d="M207.89,91.40L207.97,91.75L208.07,92.19L208.20,92.69L208.35,93.26L208.52,93.88L208.70,94.54L208.89,95.23L209.09,95.94L209.29,96.66L209.48,97.37L209.68,98.08L209.86,98.76L210.07,99.43L210.28,100.11L210.50,100.81L210.73,101.53L210.95,102.25L211.18,102.99L211.41,103.72L211.64,104.46L211.86,105.20L212.07,105.93L212.28,106.65L212.48,107.35L212.68,108.01L212.87,108.64L213.06,109.26L213.25,109.88L213.44,110.51L213.63,111.15L213.81,111.81L213.99,112.50L214.16,113.23L214.32,113.99L214.48,114.80L214.62,115.65L214.74,116.56L214.86,117.50L214.97,118.48L215.07,119.49L215.16,120.52L215.24,121.57L215.32,122.64L215.38,123.71L215.44,124.78L215.50,125.84L215.54,126.89L215.58,127.92L215.61,128.92L215.63,129.91L215.65,130.89L215.66,131.86L215.66,132.84L215.65,133.82L215.64,134.82L215.61,135.83L215.58,136.86L215.53,137.92L215.48,139.00L215.41,140.12L215.33,141.27L215.26,142.45L215.18,143.67L215.09,144.91L215.00,146.19L214.89,147.49L214.76,148.80L214.61,150.12L214.45,151.44L214.25,152.77L214.03,154.09L213.77,155.40L213.48,156.70L213.16,157.99L212.81,159.28L212.43,160.56L212.04,161.84L211.62,163.10L211.20,164.37L210.77,165.63L210.33,166.88L209.88,168.13L209.45,169.38L209.01,170.62L208.56,171.88L208.10,173.15L207.62,174.43L207.14,175.71L206.66,176.99L206.16,178.26L205.67,179.53L205.17,180.79L204.67,182.03L204.17,183.25L203.68,184.46L203.19,185.64L202.71,186.82L202.21,188.02L201.70,189.22L201.19,190.42L200.67,191.61L200.17,192.78L199.67,193.91L199.18,194.99L198.71,196.02L198.25,196.99L197.82,197.88L197.42,198.70L197.03,199.43L196.66,200.06L196.31,200.62L195.98,201.10L195.67,201.52L195.38,201.89L195.11,202.21L194.86,202.50L194.63,202.77L194.42,203.05L194.21,203.33L194.00,203.67L193.78,204.06L193.55,204.49L193.33,204.95L193.10,205.41L192.88,205.88L192.67,206.35L192.46,206.80L192.27,207.22L192.09,207.62L191.93,207.97L191.79,208.28L191.67,208.53" stroke="#17a3b5" stroke-width="1.0"/><path d="M209.60,90.83L209.66,91.19L209.74,91.63L209.85,92.14L209.97,92.72L210.12,93.34L210.28,94.01L210.44,94.71L210.62,95.43L210.79,96.16L210.97,96.88L211.14,97.60L211.30,98.29L211.50,98.96L211.71,99.65L211.92,100.35L212.15,101.07L212.37,101.80L212.59,102.53L212.82,103.27L213.04,104.02L213.26,104.76L213.47,105.50L213.68,106.24L213.87,106.94L214.06,107.60L214.25,108.22L214.44,108.83L214.63,109.46L214.82,110.09L215.01,110.75L215.20,111.44L215.38,112.15L215.56,112.91L215.73,113.70L215.88,114.55L216.03,115.43L216.15,116.36L216.27,117.32L216.38,118.32L216.47,119.35L216.56,120.40L216.64,121.46L216.72,122.54L216.78,123.62L216.84,124.70L216.89,125.77L216.93,126.83L216.96,127.86L216.99,128.88L217.01,129.87L217.02,130.86L217.03,131.85L217.03,132.84L217.02,133.83L217.00,134.84L216.97,135.86L216.93,136.90L216.88,137.97L216.82,139.07L216.75,140.19L216.67,141.34L216.59,142.52L216.51,143.75L216.41,145.00L216.31,146.29L216.19,147.60L216.06,148.92L215.91,150.26L215.73,151.61L215.53,152.96L215.30,154.31L215.03,155.66L214.73,156.99L214.39,158.31L214.03,159.62L213.64,160.92L213.23,162.21L212.81,163.49L212.38,164.76L211.94,166.03L211.49,167.28L211.05,168.53L210.60,169.77L210.16,171.02L209.70,172.27L209.23,173.55L208.74,174.83L208.25,176.11L207.75,177.39L207.24,178.67L206.74,179.94L206.23,181.19L205.72,182.44L205.21,183.66L204.71,184.86L204.21,186.04L203.71,187.23L203.20,188.42L202.69,189.63L202.17,190.83L201.65,192.02L201.13,193.19L200.62,194.32L200.13,195.41L199.64,196.45L199.18,197.42L198.74,198.32L198.32,199.15L197.91,199.89L197.52,200.55L197.14,201.13L196.78,201.63L196.44,202.07L196.13,202.45L195.84,202.77L195.59,203.06L195.36,203.31L195.16,203.55L194.96,203.79L194.76,204.09L194.55,204.46L194.33,204.87L194.10,205.31L193.88,205.77L193.65,206.23L193.44,206.69L193.23,207.13L193.04,207.55L192.86,207.95L192.69,208.30L192.55,208.61L192.42,208.86" stroke="#a6cb62" stroke-width="0.9"/><path d="M213.36,89.57L213.36,89.95L213.39,90.40L213.44,90.93L213.52,91.52L213.61,92.17L213.72,92.86L213.84,93.57L213.96,94.31L214.09,95.06L214.21,95.81L214.33,96.55L214.45,97.27L214.64,97.94L214.84,98.62L215.04,99.33L215.25,100.05L215.46,100.79L215.68,101.54L215.89,102.29L216.11,103.05L216.32,103.81L216.53,104.57L216.73,105.32L216.92,106.04L217.10,106.68L217.27,107.28L217.45,107.89L217.64,108.52L217.84,109.18L218.04,109.87L218.23,110.61L218.43,111.39L218.62,112.21L218.80,113.08L218.97,113.99L219.12,114.95L219.25,115.94L219.36,116.95L219.46,117.98L219.56,119.04L219.64,120.12L219.72,121.22L219.78,122.32L219.84,123.42L219.89,124.52L219.93,125.62L219.97,126.70L220.00,127.75L220.01,128.78L220.03,129.79L220.03,130.80L220.03,131.81L220.02,132.83L220.01,133.85L219.98,134.88L219.94,135.93L219.90,137.00L219.84,138.10L219.77,139.22L219.69,140.36L219.60,141.51L219.51,142.69L219.41,143.92L219.30,145.19L219.19,146.50L219.06,147.84L218.91,149.20L218.74,150.58L218.55,151.98L218.33,153.39L218.07,154.80L217.78,156.21L217.45,157.61L217.09,158.99L216.70,160.36L216.29,161.70L215.86,163.02L215.42,164.33L214.97,165.63L214.51,166.90L214.05,168.16L213.59,169.41L213.14,170.65L212.69,171.88L212.20,173.14L211.70,174.42L211.19,175.71L210.67,176.99L210.14,178.28L209.61,179.56L209.08,180.83L208.54,182.09L208.01,183.33L207.48,184.55L206.95,185.75L206.43,186.93L205.92,188.12L205.39,189.32L204.86,190.53L204.32,191.73L203.78,192.93L203.24,194.10L202.72,195.23L202.20,196.33L201.70,197.37L201.22,198.35L200.75,199.27L200.31,200.12L199.85,200.91L199.39,201.62L198.96,202.25L198.53,202.80L198.14,203.28L197.78,203.68L197.46,204.01L197.19,204.27L196.97,204.47L196.78,204.64L196.61,204.80L196.43,205.02L196.24,205.33L196.02,205.71L195.80,206.12L195.58,206.55L195.35,206.99L195.13,207.44L194.92,207.87L194.72,208.28L194.53,208.67L194.36,209.02L194.20,209.34L194.06,209.59" stroke="#f5bb3f" stroke-width="0.9"/></g><g fill="none" clip-path="url(#cL)" stroke-linejoin="round"><path d="M155.01,89.10L155.99,89.10L157.24,89.11L158.72,89.11L160.38,89.12L162.18,89.12L164.07,89.13L166.02,89.14L167.97,89.15L169.90,89.16L171.74,89.17L173.46,89.18L175.02,89.20L176.47,89.22L177.88,89.24L179.26,89.26L180.60,89.29L181.90,89.31L183.17,89.34L184.41,89.37L185.61,89.39L186.77,89.42L187.90,89.45L188.99,89.48L190.06,89.50L191.07,89.52L192.03,89.54L192.93,89.56L193.79,89.58L194.60,89.61L195.40,89.63L196.17,89.65L196.93,89.66L197.68,89.68L198.44,89.69L199.22,89.70L200.02,89.70L200.83,89.71L201.61,89.71L202.38,89.71L203.14,89.71L203.89,89.70L204.66,89.69L205.45,89.68L206.26,89.67L207.11,89.66L208.00,89.64L208.95,89.62L209.95,89.60L211.00,89.57L212.09,89.53L213.21,89.49L214.37,89.45L215.57,89.40L216.80,89.36L218.07,89.31L219.38,89.26L220.72,89.22L222.10,89.18L223.51,89.14L224.96,89.10L226.44,89.07L227.98,89.05L229.56,89.02L231.19,89.00L232.84,88.97L234.53,88.95L236.25,88.93L237.98,88.91L239.73,88.90L241.49,88.90L243.25,88.90L245.01,88.90L246.86,88.91L248.84,88.94L250.91,88.97L253.04,89.00L255.19,89.04L257.30,89.09L259.34,89.13L261.28,89.17L263.05,89.21L264.64,89.25L265.98,89.28L267.05,89.30" stroke="#f5bb3f" stroke-width="1.1"/><path d="M154.99,93.50L155.97,93.50L157.23,93.51L158.70,93.51L160.36,93.52L162.16,93.52L164.05,93.53L166.00,93.54L167.95,93.55L169.87,93.56L171.71,93.57L173.42,93.58L174.98,93.60L176.41,93.62L177.81,93.64L179.18,93.66L180.51,93.68L181.81,93.71L183.08,93.74L184.31,93.76L185.50,93.79L186.67,93.82L187.79,93.85L188.89,93.87L189.94,93.90L190.95,93.93L191.89,93.97L192.77,94.01L193.62,94.05L194.44,94.09L195.23,94.12L196.01,94.16L196.78,94.20L197.55,94.23L198.34,94.26L199.14,94.28L199.98,94.30L200.80,94.31L201.60,94.31L202.39,94.31L203.16,94.31L203.93,94.30L204.71,94.29L205.51,94.28L206.33,94.27L207.19,94.26L208.09,94.24L209.04,94.22L210.05,94.20L211.11,94.18L212.22,94.16L213.35,94.14L214.52,94.11L215.71,94.09L216.95,94.06L218.21,94.02L219.51,94.00L220.84,93.97L222.21,93.94L223.61,93.92L225.04,93.90L226.53,93.87L228.06,93.85L229.64,93.82L231.26,93.80L232.91,93.77L234.59,93.75L236.30,93.73L238.02,93.71L239.75,93.70L241.50,93.70L243.24,93.70L244.99,93.70L246.81,93.71L248.77,93.74L250.84,93.77L252.96,93.80L255.09,93.84L257.20,93.89L259.24,93.93L261.17,93.97L262.95,94.01L264.53,94.05L265.88,94.08L266.95,94.10" stroke="#f5bb3f" stroke-width="1.1"/><path d="M155.01,89.94L155.99,89.94L157.24,89.94L158.72,89.95L160.37,89.95L162.17,89.96L164.07,89.97L166.01,89.98L167.97,89.98L169.89,89.99L171.73,90.01L173.46,90.02L175.02,90.04L176.46,90.05L177.87,90.07L179.24,90.10L180.58,90.12L181.89,90.15L183.15,90.17L184.39,90.20L185.59,90.23L186.75,90.26L187.88,90.28L188.97,90.31L190.03,90.34L191.05,90.36L192.00,90.38L192.90,90.41L193.75,90.43L194.57,90.46L195.36,90.48L196.14,90.50L196.90,90.53L197.66,90.54L198.42,90.56L199.21,90.57L200.02,90.57L200.83,90.58L201.61,90.58L202.38,90.58L203.14,90.58L203.90,90.58L204.67,90.57L205.46,90.56L206.27,90.54L207.12,90.53L208.02,90.51L208.96,90.49L209.97,90.47L211.02,90.45L212.11,90.41L213.24,90.38L214.40,90.34L215.60,90.29L216.83,90.25L218.10,90.21L219.40,90.16L220.74,90.12L222.12,90.08L223.53,90.04L224.97,90.01L226.46,89.99L228.00,89.96L229.58,89.93L231.20,89.91L232.86,89.88L234.54,89.86L236.26,89.84L237.99,89.83L239.73,89.82L241.49,89.81L243.25,89.81L245.01,89.81L246.85,89.83L248.83,89.85L250.90,89.88L253.03,89.92L255.17,89.96L257.28,90.00L259.32,90.04L261.26,90.09L263.03,90.13L264.62,90.16L265.96,90.19L267.03,90.21" stroke="#a6cb62" stroke-width="1.0"/><path d="M154.99,92.66L155.98,92.67L157.23,92.67L158.71,92.68L160.37,92.68L162.16,92.69L164.06,92.70L166.00,92.70L167.96,92.71L169.87,92.72L171.71,92.73L173.43,92.75L174.98,92.76L176.42,92.78L177.83,92.80L179.20,92.82L180.53,92.85L181.83,92.87L183.10,92.90L184.33,92.93L185.52,92.96L186.69,92.98L187.81,93.01L188.91,93.04L189.97,93.06L190.97,93.09L191.91,93.13L192.80,93.16L193.65,93.20L194.47,93.23L195.26,93.27L196.04,93.30L196.81,93.33L197.58,93.36L198.36,93.39L199.16,93.41L199.98,93.43L200.81,93.43L201.61,93.44L202.39,93.44L203.16,93.43L203.93,93.43L204.70,93.42L205.50,93.41L206.32,93.40L207.17,93.38L208.07,93.36L209.02,93.35L210.03,93.33L211.09,93.31L212.19,93.28L213.32,93.26L214.49,93.23L215.69,93.20L216.92,93.16L218.19,93.13L219.49,93.10L220.82,93.06L222.19,93.04L223.59,93.01L225.03,92.99L226.51,92.96L228.05,92.94L229.63,92.91L231.24,92.88L232.90,92.86L234.58,92.84L236.29,92.82L238.01,92.80L239.75,92.79L241.50,92.78L243.25,92.78L244.99,92.79L246.82,92.80L248.79,92.82L250.85,92.85L252.97,92.89L255.11,92.93L257.22,92.98L259.26,93.02L261.19,93.06L262.97,93.10L264.55,93.14L265.90,93.17L266.97,93.19" stroke="#a6cb62" stroke-width="1.0"/><path d="M155.00,90.64L155.98,90.64L157.24,90.65L158.71,90.65L160.37,90.66L162.17,90.66L164.07,90.67L166.01,90.68L167.97,90.69L169.89,90.70L171.73,90.71L173.45,90.72L175.01,90.74L176.45,90.76L177.86,90.78L179.23,90.80L180.57,90.83L181.87,90.85L183.14,90.88L184.37,90.91L185.57,90.93L186.73,90.96L187.86,90.99L188.96,91.01L190.02,91.04L191.03,91.06L191.98,91.09L192.87,91.12L193.73,91.15L194.55,91.17L195.34,91.20L196.11,91.23L196.87,91.25L197.64,91.27L198.41,91.29L199.19,91.30L200.01,91.31L200.82,91.32L201.61,91.32L202.38,91.32L203.14,91.32L203.91,91.31L204.68,91.30L205.47,91.29L206.28,91.28L207.14,91.27L208.03,91.25L208.98,91.23L209.99,91.21L211.04,91.18L212.13,91.15L213.26,91.12L214.42,91.08L215.62,91.04L216.85,91.00L218.12,90.96L219.42,90.92L220.76,90.88L222.14,90.84L223.54,90.81L224.99,90.78L226.47,90.75L228.01,90.73L229.59,90.70L231.21,90.68L232.87,90.65L234.55,90.63L236.26,90.61L237.99,90.59L239.74,90.58L241.49,90.58L243.25,90.58L245.00,90.58L246.84,90.59L248.82,90.62L250.89,90.65L253.01,90.68L255.15,90.72L257.27,90.77L259.31,90.81L261.24,90.85L263.02,90.89L264.60,90.93L265.95,90.96L267.01,90.98" stroke="#17a3b5" stroke-width="1.2"/><path d="M155.00,91.96L155.98,91.96L157.23,91.97L158.71,91.97L160.37,91.98L162.17,91.98L164.06,91.99L166.01,92.00L167.96,92.01L169.88,92.02L171.72,92.03L173.44,92.04L174.99,92.06L176.43,92.08L177.84,92.10L179.21,92.12L180.54,92.15L181.84,92.17L183.11,92.20L184.34,92.22L185.54,92.25L186.70,92.28L187.83,92.31L188.92,92.33L189.98,92.36L190.99,92.39L191.94,92.42L192.83,92.45L193.68,92.48L194.50,92.52L195.29,92.55L196.06,92.58L196.83,92.61L197.60,92.64L198.38,92.66L199.17,92.68L199.99,92.69L200.81,92.70L201.61,92.70L202.38,92.70L203.15,92.70L203.92,92.69L204.70,92.68L205.49,92.67L206.31,92.66L207.16,92.65L208.06,92.63L209.01,92.61L210.01,92.59L211.08,92.57L212.17,92.54L213.30,92.51L214.47,92.48L215.66,92.45L216.90,92.41L218.16,92.37L219.46,92.34L220.80,92.31L222.17,92.27L223.57,92.24L225.01,92.22L226.50,92.19L228.03,92.17L229.61,92.14L231.23,92.12L232.89,92.09L234.57,92.07L236.28,92.05L238.01,92.03L239.75,92.02L241.49,92.02L243.25,92.02L245.00,92.02L246.83,92.03L248.80,92.06L250.86,92.09L252.99,92.12L255.12,92.16L257.23,92.21L259.28,92.25L261.21,92.29L262.98,92.33L264.57,92.37L265.92,92.40L266.99,92.42" stroke="#17a3b5" stroke-width="1.2"/><path d="M155.00,91.30L155.98,91.30L157.23,91.31L158.71,91.31L160.37,91.32L162.17,91.32L164.06,91.33L166.01,91.34L167.96,91.35L169.88,91.36L171.72,91.37L173.44,91.38L175.00,91.40L176.44,91.42L177.85,91.44L179.22,91.46L180.56,91.49L181.86,91.51L183.12,91.54L184.36,91.56L185.56,91.59L186.72,91.62L187.85,91.65L188.94,91.67L190.00,91.70L191.01,91.73L191.96,91.75L192.85,91.78L193.70,91.81L194.52,91.85L195.31,91.88L196.09,91.90L196.85,91.93L197.62,91.95L198.39,91.97L199.18,91.99L200.00,92.00L200.82,92.01L201.61,92.01L202.38,92.01L203.15,92.01L203.91,92.00L204.69,91.99L205.48,91.98L206.30,91.97L207.15,91.96L208.04,91.94L208.99,91.92L210.00,91.90L211.06,91.88L212.15,91.85L213.28,91.82L214.44,91.78L215.64,91.74L216.88,91.71L218.14,91.67L219.44,91.63L220.78,91.59L222.15,91.56L223.56,91.53L225.00,91.50L226.49,91.47L228.02,91.45L229.60,91.42L231.22,91.40L232.88,91.37L234.56,91.35L236.27,91.33L238.00,91.31L239.74,91.30L241.49,91.30L243.25,91.30L245.00,91.30L246.83,91.31L248.81,91.34L250.88,91.37L253.00,91.40L255.14,91.44L257.25,91.49L259.29,91.53L261.22,91.57L263.00,91.61L264.58,91.65L265.93,91.68L267.00,91.70" stroke="#2eaee0" stroke-width="0.9"/></g><rect x="82.7" y="14.6" width="75.8" height="109.60000000000001" fill="#fff" stroke="#5a5a5a" stroke-width="1.0"/><circle cx="97.5" cy="22.1" r="2.8" fill="#ffff00"/><text class="lg" x="112.6" y="26.8">N</text><circle cx="97.5" cy="35.5" r="2.8" fill="#00ff00"/><text class="lg" x="112.6" y="40.2">B</text><circle cx="97.5" cy="48.9" r="2.8" fill="#0000ff"/><text class="lg" x="112.6" y="53.6">IF</text><circle cx="97.5" cy="62.3" r="2.8" fill="#ff00ff"/><text class="lg" x="112.6" y="67.0">OF</text><rect x="95.9" y="74.1" width="3.2" height="3.2" fill="#0000ff"/><text class="lg" x="112.6" y="80.4">NCenter</text><rect x="95.9" y="87.5" width="3.2" height="3.2" fill="#ff00ff"/><text class="lg" x="112.6" y="93.8">BCenter</text><rect x="95.9" y="100.9" width="3.2" height="3.2" fill="#ffff00"/><text class="lg" x="112.6" y="107.2">IFCenter</text><rect x="95.9" y="114.3" width="3.2" height="3.2" fill="#00ff00"/><text class="lg" x="112.6" y="120.6">OFCenter</text><rect x="304.7" y="7.6" width="235.00000000000006" height="190.8" fill="none" stroke="#5a5a5a" stroke-width="1.0"/><path d="M304.70,198.4v-2.4M304.70,7.6v2.4M304.7,198.40h2.4M539.7,198.40h-2.4M351.70,198.4v-2.4M351.70,7.6v2.4M304.7,160.24h2.4M539.7,160.24h-2.4M398.70,198.4v-2.4M398.70,7.6v2.4M304.7,122.08h2.4M539.7,122.08h-2.4M445.70,198.4v-2.4M445.70,7.6v2.4M304.7,83.92h2.4M539.7,83.92h-2.4M492.70,198.4v-2.4M492.70,7.6v2.4M304.7,45.76h2.4M539.7,45.76h-2.4M539.70,198.4v-2.4M539.70,7.6v2.4M304.7,7.60h2.4M539.7,7.60h-2.4" stroke="#5a5a5a" stroke-width="0.9" fill="none"/><text x="304.7" y="214.5" text-anchor="middle">0</text><text x="299.7" y="203.1" text-anchor="end">0</text><text x="351.7" y="214.5" text-anchor="middle">0.2</text><text x="299.7" y="164.9" text-anchor="end">0.2</text><text x="398.7" y="214.5" text-anchor="middle">0.4</text><text x="299.7" y="126.8" text-anchor="end">0.4</text><text x="445.7" y="214.5" text-anchor="middle">0.6</text><text x="299.7" y="88.6" text-anchor="end">0.6</text><text x="492.7" y="214.5" text-anchor="middle">0.8</text><text x="299.7" y="50.5" text-anchor="end">0.8</text><text x="539.7" y="214.5" text-anchor="middle">1</text><text x="299.7" y="12.3" text-anchor="end">1</text><g fill="#ffff00" stroke="#fff" stroke-width="0.8" clip-path="url(#cRd)"><circle cx="326.5" cy="124.7" r="3.3"/><circle cx="343.6" cy="129.6" r="3.3"/><circle cx="348.5" cy="134.9" r="3.3"/><circle cx="343.1" cy="136.6" r="3.3"/><circle cx="338.5" cy="139.4" r="3.3"/><circle cx="309.9" cy="149.2" r="3.3"/><circle cx="326.3" cy="147.1" r="3.3"/><circle cx="329.9" cy="146" r="3.3"/><circle cx="334.2" cy="146" r="3.3"/><circle cx="336.6" cy="147.3" r="3.3"/><circle cx="349.2" cy="147.3" r="3.3"/><circle cx="341.5" cy="151.4" r="3.3"/><circle cx="347.5" cy="151.9" r="3.3"/><circle cx="363.4" cy="150.5" r="3.3"/><circle cx="329.2" cy="155.1" r="3.3"/><circle cx="325.7" cy="158.7" r="3.3"/><circle cx="345.4" cy="155.5" r="3.3"/><circle cx="346.5" cy="159.3" r="3.3"/><circle cx="320.3" cy="163.5" r="3.3"/><circle cx="322.5" cy="161.3" r="3.3"/><circle cx="325.7" cy="167.3" r="3.3"/><circle cx="331.2" cy="164.5" r="3.3"/><circle cx="331.7" cy="159.6" r="3.3"/><circle cx="345.9" cy="160.5" r="3.3"/><circle cx="354.1" cy="161.8" r="3.3"/><circle cx="348.6" cy="165.6" r="3.3"/><circle cx="348.6" cy="169.5" r="3.3"/><circle cx="354.1" cy="169.5" r="3.3"/><circle cx="344.8" cy="172.7" r="3.3"/><circle cx="333.6" cy="171.4" r="3.3"/><circle cx="335" cy="174.7" r="3.3"/><circle cx="337.2" cy="177.6" r="3.3"/><circle cx="325.7" cy="176" r="3.3"/><circle cx="327.9" cy="178.2" r="3.3"/><circle cx="346.5" cy="178.7" r="3.3"/><circle cx="355.2" cy="177.1" r="3.3"/><circle cx="347" cy="179.4" r="3.3"/><circle cx="336.6" cy="178" r="3.3"/><circle cx="328.5" cy="185.3" r="3.3"/><circle cx="349.5" cy="189.5" r="3.3"/><circle cx="350.3" cy="193.8" r="3.3"/><circle cx="357.9" cy="193.8" r="3.3"/><circle cx="305.3" cy="190.9" r="3.3"/><circle cx="328.4" cy="185.5" r="3.3"/><rect x="334.9" y="158.5" width="7.8" height="7.8"/></g><g fill="#00ff00" stroke="#fff" stroke-width="0.8" clip-path="url(#cRd)"><circle cx="433.8" cy="6.8" r="3.3"/><circle cx="449.1" cy="11.5" r="3.3"/><circle cx="426.1" cy="14.5" r="3.3"/><circle cx="458.9" cy="22.6" r="3.3"/><circle cx="432.9" cy="23.7" r="3.3"/><circle cx="437.5" cy="23.5" r="3.3"/><circle cx="429.1" cy="27.9" r="3.3"/><circle cx="441.6" cy="28.1" r="3.3"/><circle cx="423.1" cy="30.3" r="3.3"/><circle cx="436.2" cy="29.7" r="3.3"/><circle cx="448.7" cy="29.7" r="3.3"/><circle cx="417.4" cy="36" r="3.3"/><circle cx="423.1" cy="31.2" r="3.3"/><circle cx="429.1" cy="32.8" r="3.3"/><circle cx="436.7" cy="30.6" r="3.3"/><circle cx="441.9" cy="28.4" r="3.3"/><circle cx="447.1" cy="30.4" r="3.3"/><circle cx="449.3" cy="32.5" r="3.3"/><circle cx="428.8" cy="38.5" r="3.3"/><circle cx="430.2" cy="42.9" r="3.3"/><circle cx="433.5" cy="47.3" r="3.3"/><circle cx="429.6" cy="46.2" r="3.3"/><circle cx="438.9" cy="45.6" r="3.3"/><circle cx="445.5" cy="45.1" r="3.3"/><circle cx="448.7" cy="41.3" r="3.3"/><circle cx="448.2" cy="36.9" r="3.3"/><circle cx="453.1" cy="36.4" r="3.3"/><circle cx="456.4" cy="40.2" r="3.3"/><circle cx="452.5" cy="45.6" r="3.3"/><circle cx="448.7" cy="48.9" r="3.3"/><circle cx="454.2" cy="52.2" r="3.3"/><circle cx="433.1" cy="47.6" r="3.3"/><circle cx="438.5" cy="46" r="3.3"/><circle cx="445" cy="46.9" r="3.3"/><circle cx="452.7" cy="46.5" r="3.3"/><circle cx="453.9" cy="53.3" r="3.3"/><circle cx="433.7" cy="61.1" r="3.3"/><circle cx="448.2" cy="62.3" r="3.3"/><circle cx="456.1" cy="61.7" r="3.3"/><circle cx="445" cy="67.9" r="3.3"/><rect x="437.2" y="35.0" width="7.8" height="7.8"/></g><g fill="#0000ff" stroke="#fff" stroke-width="0.8" clip-path="url(#cRd)"><circle cx="499.3" cy="76.4" r="3.3"/><circle cx="477.2" cy="83.5" r="3.3"/><circle cx="475.3" cy="81.3" r="3.3"/><circle cx="471.5" cy="86.1" r="3.3"/><circle cx="485" cy="85.7" r="3.3"/><circle cx="480.5" cy="86.7" r="3.3"/><circle cx="468.5" cy="90.5" r="3.3"/><circle cx="472.8" cy="91.2" r="3.3"/><circle cx="477.9" cy="91.2" r="3.3"/><circle cx="482.6" cy="91.2" r="3.3"/><circle cx="489.4" cy="94.4" r="3.3"/><circle cx="498.4" cy="95" r="3.3"/><circle cx="469.5" cy="97.6" r="3.3"/><circle cx="491.4" cy="97.6" r="3.3"/><circle cx="495.2" cy="99.8" r="3.3"/><circle cx="451.8" cy="102.2" r="3.3"/><circle cx="450.9" cy="104.6" r="3.3"/><circle cx="461.8" cy="108.9" r="3.3"/><circle cx="459.9" cy="107.2" r="3.3"/><circle cx="466.3" cy="105.9" r="3.3"/><circle cx="469.5" cy="98.9" r="3.3"/><circle cx="468.9" cy="112.3" r="3.3"/><circle cx="465.7" cy="117.5" r="3.3"/><circle cx="468.5" cy="120" r="3.3"/><circle cx="476" cy="121.3" r="3.3"/><circle cx="478.5" cy="115.5" r="3.3"/><circle cx="476" cy="115.5" r="3.3"/><circle cx="485" cy="107.8" r="3.3"/><circle cx="488.2" cy="111.1" r="3.3"/><circle cx="488.8" cy="105.3" r="3.3"/><circle cx="486.2" cy="121.3" r="3.3"/><circle cx="494.6" cy="104" r="3.3"/><circle cx="494.6" cy="99.5" r="3.3"/><circle cx="498.4" cy="96.3" r="3.3"/><circle cx="491.4" cy="98.2" r="3.3"/><circle cx="474" cy="107.8" r="3.3"/><circle cx="473.9" cy="98.2" r="3.3"/><circle cx="481.8" cy="97.1" r="3.3"/><circle cx="484" cy="102.7" r="3.3"/><circle cx="482.9" cy="108.4" r="3.3"/><circle cx="473.9" cy="107.2" r="3.3"/><circle cx="487.4" cy="105" r="3.3"/><circle cx="479.5" cy="111.8" r="3.3"/><circle cx="476.1" cy="115.1" r="3.3"/><circle cx="479.5" cy="116.3" r="3.3"/><rect x="474.5" y="98.6" width="7.8" height="7.8"/></g><g fill="#ff00ff" stroke="#fff" stroke-width="0.8" clip-path="url(#cRd)"><circle cx="521.4" cy="160.9" r="3.3"/><circle cx="517.3" cy="163.6" r="3.3"/><circle cx="526.5" cy="163.1" r="3.3"/><circle cx="531.5" cy="163.6" r="3.3"/><circle cx="539.6" cy="166.9" r="3.3"/><circle cx="512.9" cy="169.6" r="3.3"/><circle cx="517.3" cy="170.7" r="3.3"/><circle cx="521.6" cy="169.6" r="3.3"/><circle cx="526" cy="167.5" r="3.3"/><circle cx="527.1" cy="171.8" r="3.3"/><circle cx="530.9" cy="170.2" r="3.3"/><circle cx="534.7" cy="174" r="3.3"/><circle cx="507.5" cy="177.3" r="3.3"/><circle cx="507.5" cy="178.5" r="3.3"/><circle cx="511.8" cy="184.5" r="3.3"/><circle cx="516.2" cy="185.6" r="3.3"/><circle cx="517.8" cy="191.1" r="3.3"/><circle cx="516.7" cy="195.5" r="3.3"/><circle cx="521.1" cy="197.6" r="3.3"/><circle cx="527.6" cy="194.9" r="3.3"/><circle cx="533.1" cy="196" r="3.3"/><circle cx="534.2" cy="188.9" r="3.3"/><circle cx="538" cy="191.1" r="3.3"/><circle cx="533.6" cy="180.7" r="3.3"/><circle cx="534.2" cy="174.7" r="3.3"/><circle cx="518.9" cy="178.5" r="3.3"/><circle cx="522.7" cy="186.2" r="3.3"/><circle cx="528.2" cy="186.2" r="3.3"/><circle cx="517.3" cy="172" r="3.3"/><circle cx="512.9" cy="173.1" r="3.3"/><rect x="521.6" y="175.5" width="7.8" height="7.8"/></g><path d="M317.6,7.2 L332,35 M384,7.4 L387,12 M470.00,6.00 L469.49,6.55 L468.81,7.30 L467.99,8.19 L467.09,9.17 L466.15,10.19 L465.21,11.21 L464.31,12.16 L463.50,13.00 L462.79,13.73 L462.13,14.39 L461.50,15.01 L460.89,15.61 L460.25,16.22 L459.58,16.85 L458.83,17.54 L458.00,18.30 L457.05,19.16 L456.00,20.09 L454.88,21.08 L453.72,22.10 L452.55,23.12 L451.40,24.11 L450.31,25.04 L449.30,25.90 L448.38,26.67 L447.53,27.38 L446.72,28.04 L445.93,28.67 L445.16,29.28 L444.37,29.90 L443.56,30.53 L442.70,31.20 L441.80,31.90 L440.87,32.62 L439.92,33.34 L438.96,34.08 L437.99,34.80 L437.02,35.52 L436.06,36.22 L435.10,36.90 L434.14,37.56 L433.18,38.21 L432.21,38.84 L431.24,39.47 L430.28,40.08 L429.33,40.67 L428.40,41.25 L427.50,41.80 L426.63,42.33 L425.79,42.83 L424.96,43.31 L424.16,43.78 L423.35,44.24 L422.55,44.69 L421.73,45.14 L420.90,45.60 L420.03,46.07 L419.13,46.55 L418.21,47.04 L417.29,47.52 L416.39,47.98 L415.53,48.42 L414.73,48.83 L414.00,49.20 L413.33,49.53 L412.70,49.84 L412.11,50.12 L411.57,50.38 L411.08,50.60 L410.65,50.80 L410.29,50.97 L410.00,51.10 M410,51.1 L408,50 L407.5,47 M376.20,120.00 L376.32,121.00 L376.47,122.31 L376.64,123.87 L376.84,125.62 L377.07,127.48 L377.32,129.39 L377.60,131.29 L377.90,133.10 L378.24,134.91 L378.61,136.80 L379.02,138.75 L379.45,140.71 L379.89,142.66 L380.34,144.54 L380.78,146.34 L381.20,148.00 L381.61,149.53 L382.02,150.95 L382.43,152.29 L382.84,153.57 L383.25,154.81 L383.66,156.03 L384.08,157.25 L384.50,158.50 L384.91,159.73 L385.29,160.88 L385.67,162.01 L386.05,163.14 L386.46,164.30 L386.91,165.52 L387.42,166.85 L388.00,168.30 L388.66,169.89 L389.39,171.60 L390.17,173.40 L390.99,175.26 L391.84,177.18 L392.72,179.12 L393.61,181.07 L394.50,183.00 L395.46,185.05 L396.52,187.28 L397.64,189.61 L398.76,191.92 L399.82,194.11 L400.79,196.09 L401.60,197.76 L402.20,199.00 M492.80,199.00 L493.35,198.28 L494.07,197.33 L494.94,196.19 L495.90,194.93 L496.93,193.59 L497.98,192.22 L499.01,190.87 L500.00,189.60 L500.97,188.35 L501.96,187.05 L502.98,185.73 L504.01,184.40 L505.03,183.09 L506.04,181.82 L507.04,180.62 L508.00,179.50 L508.93,178.47 L509.83,177.49 L510.71,176.57 L511.57,175.70 L512.44,174.86 L513.31,174.06 L514.19,173.27 L515.10,172.50 L516.02,171.76 L516.94,171.06 L517.86,170.41 L518.79,169.77 L519.74,169.14 L520.70,168.51 L521.69,167.87 L522.70,167.20 L523.74,166.50 L524.82,165.79 L525.93,165.07 L527.04,164.35 L528.17,163.63 L529.29,162.91 L530.41,162.20 L531.50,161.50 L532.63,160.78 L533.85,160.02 L535.08,159.25 L536.30,158.49 L537.45,157.78 L538.48,157.14 L539.35,156.61 L540.00,156.20 M458,160 L459,160.6 M540,72 L539.6,77.5 L537,80.5" fill="none" stroke="#ffff00" stroke-width="1.0" clip-path="url(#cR)"/><g fill="none" clip-path="url(#cR)" stroke-linejoin="round"><path d="M348.59,3.15L348.67,3.31L348.78,3.51L348.90,3.74L349.04,3.99L349.19,4.28L349.35,4.58L349.52,4.90L349.69,5.22L349.87,5.56L350.05,5.90L350.23,6.24L350.40,6.58L350.57,6.91L350.75,7.26L350.93,7.62L351.12,7.99L351.31,8.37L351.50,8.75L351.69,9.13L351.88,9.51L352.07,9.89L352.26,10.27L352.44,10.64L352.62,11.01L352.80,11.39L352.99,11.78L353.18,12.19L353.38,12.60L353.57,13.00L353.76,13.40L353.95,13.79L354.12,14.15L354.27,14.48L354.41,14.78L354.53,15.03L354.63,15.23" stroke="#f5bb3f" stroke-width="1.1"/><path d="M345.41,4.85L345.50,5.01L345.60,5.21L345.73,5.44L345.87,5.69L346.02,5.97L346.17,6.27L346.34,6.59L346.51,6.91L346.69,7.24L346.86,7.57L347.03,7.90L347.20,8.22L347.37,8.55L347.54,8.89L347.72,9.25L347.90,9.61L348.09,9.98L348.28,10.35L348.47,10.73L348.65,11.11L348.84,11.49L349.03,11.86L349.21,12.23L349.38,12.59L349.56,12.95L349.75,13.34L349.94,13.74L350.13,14.14L350.32,14.55L350.51,14.95L350.69,15.33L350.86,15.69L351.02,16.02L351.16,16.31L351.28,16.57L351.37,16.77" stroke="#f5bb3f" stroke-width="1.1"/><path d="M347.99,3.48L348.07,3.64L348.17,3.83L348.30,4.06L348.44,4.32L348.59,4.60L348.75,4.90L348.92,5.22L349.09,5.54L349.27,5.88L349.45,6.22L349.62,6.56L349.79,6.89L349.96,7.23L350.14,7.57L350.32,7.93L350.51,8.30L350.70,8.67L350.89,9.05L351.08,9.43L351.27,9.81L351.46,10.20L351.64,10.57L351.82,10.95L352.00,11.31L352.18,11.68L352.37,12.08L352.57,12.48L352.76,12.89L352.96,13.30L353.15,13.70L353.33,14.08L353.50,14.44L353.65,14.77L353.79,15.07L353.91,15.32L354.01,15.52" stroke="#a6cb62" stroke-width="1.0"/><path d="M346.01,4.52L346.10,4.69L346.21,4.89L346.33,5.11L346.47,5.37L346.62,5.65L346.78,5.95L346.95,6.26L347.12,6.59L347.29,6.92L347.47,7.25L347.64,7.58L347.81,7.91L347.98,8.24L348.15,8.58L348.33,8.94L348.51,9.30L348.70,9.67L348.89,10.05L349.08,10.43L349.27,10.81L349.45,11.19L349.64,11.56L349.82,11.93L350.00,12.29L350.18,12.66L350.36,13.04L350.55,13.44L350.75,13.85L350.94,14.26L351.13,14.65L351.31,15.03L351.48,15.39L351.64,15.73L351.78,16.02L351.90,16.28L351.99,16.48" stroke="#a6cb62" stroke-width="1.0"/><path d="M347.48,3.75L347.56,3.91L347.67,4.10L347.79,4.33L347.93,4.59L348.08,4.87L348.24,5.17L348.41,5.49L348.58,5.81L348.76,6.15L348.93,6.49L349.11,6.82L349.28,7.15L349.45,7.49L349.63,7.83L349.81,8.19L349.99,8.56L350.18,8.93L350.37,9.31L350.56,9.69L350.75,10.07L350.94,10.45L351.12,10.83L351.31,11.20L351.49,11.56L351.67,11.94L351.85,12.33L352.05,12.73L352.24,13.14L352.44,13.55L352.63,13.94L352.81,14.33L352.98,14.69L353.13,15.02L353.27,15.31L353.39,15.57L353.49,15.77" stroke="#17a3b5" stroke-width="1.2"/><path d="M346.52,4.25L346.61,4.42L346.72,4.61L346.84,4.84L346.98,5.10L347.13,5.38L347.29,5.68L347.45,5.99L347.63,6.32L347.80,6.65L347.98,6.99L348.15,7.32L348.32,7.65L348.49,7.98L348.66,8.32L348.84,8.68L349.03,9.04L349.22,9.41L349.40,9.79L349.59,10.17L349.78,10.55L349.97,10.93L350.16,11.31L350.34,11.67L350.51,12.04L350.69,12.41L350.88,12.79L351.07,13.20L351.27,13.60L351.46,14.01L351.65,14.41L351.83,14.79L352.00,15.15L352.16,15.48L352.30,15.78L352.42,16.03L352.51,16.23" stroke="#17a3b5" stroke-width="1.2"/><path d="M347.00,4.00L347.09,4.16L347.19,4.36L347.31,4.59L347.45,4.84L347.60,5.13L347.76,5.42L347.93,5.74L348.10,6.07L348.28,6.40L348.46,6.74L348.63,7.07L348.80,7.40L348.97,7.73L349.15,8.08L349.33,8.43L349.51,8.80L349.70,9.17L349.89,9.55L350.08,9.93L350.27,10.31L350.45,10.69L350.64,11.07L350.82,11.44L351.00,11.80L351.18,12.17L351.37,12.56L351.56,12.96L351.76,13.37L351.95,13.78L352.14,14.18L352.32,14.56L352.49,14.92L352.65,15.25L352.78,15.55L352.90,15.80L353.00,16.00" stroke="#2eaee0" stroke-width="0.9"/></g><g fill="none" clip-path="url(#cR)" stroke-linejoin="round"><path d="M406.46,97.71L407.08,97.45L407.85,97.13L408.75,96.75L409.76,96.32L410.86,95.85L412.04,95.36L413.27,94.84L414.54,94.32L415.83,93.79L417.12,93.27L418.39,92.76L419.64,92.28L420.88,91.81L422.16,91.36L423.44,90.92L424.73,90.49L426.03,90.06L427.34,89.63L428.64,89.19L429.93,88.74L431.22,88.27L432.50,87.78L433.75,87.28L435.00,86.73L436.25,86.16L437.51,85.56L438.78,84.93L440.05,84.28L441.32,83.61L442.60,82.92L443.88,82.21L445.16,81.49L446.45,80.75L447.74,80.01L449.03,79.25L450.31,78.48L451.61,77.70L452.91,76.90L454.23,76.07L455.56,75.23L456.89,74.37L458.22,73.51L459.53,72.64L460.83,71.77L462.11,70.90L463.36,70.05L464.57,69.21L465.76,68.38L466.90,67.59L468.00,66.83L469.06,66.10L470.08,65.39L471.07,64.69L472.03,64.00L472.98,63.29L473.93,62.56L474.89,61.80L475.85,61.00L476.85,60.14L477.87,59.21L478.95,58.22L480.06,57.17L481.18,56.09L482.32,54.97L483.47,53.81L484.62,52.62L485.76,51.40L486.90,50.16L488.02,48.89L489.12,47.61L490.20,46.31L491.25,45.01L492.26,43.68L493.25,42.32L494.23,40.93L495.19,39.52L496.14,38.08L497.09,36.61L498.03,35.12L498.97,33.60L499.91,32.05L500.85,30.48L501.80,28.89L502.76,27.28L503.74,25.61L504.76,23.82L505.80,21.94L506.86,20.01L507.92,18.05L508.97,16.10L509.99,14.19L510.97,12.35L511.90,10.60L512.75,8.99L513.53,7.53L514.21,6.26L514.80,5.19L515.30,4.26L515.73,3.46L516.10,2.78L516.41,2.20L516.68,1.70L516.90,1.28L517.09,0.92L517.26,0.60L517.42,0.31L517.56,0.04L517.71,-0.23" stroke="#f5bb3f" stroke-width="1.1"/><path d="M408.54,102.69L409.17,102.43L409.95,102.10L410.85,101.72L411.86,101.29L412.96,100.83L414.12,100.34L415.34,99.83L416.60,99.31L417.87,98.79L419.13,98.28L420.37,97.79L421.56,97.32L422.73,96.89L423.93,96.46L425.17,96.04L426.44,95.61L427.73,95.19L429.05,94.75L430.39,94.30L431.74,93.83L433.10,93.33L434.47,92.81L435.84,92.26L437.20,91.67L438.54,91.05L439.88,90.41L441.21,89.75L442.54,89.07L443.86,88.37L445.19,87.66L446.51,86.93L447.83,86.19L449.15,85.43L450.46,84.67L451.77,83.90L453.09,83.12L454.41,82.32L455.76,81.49L457.12,80.64L458.47,79.78L459.83,78.90L461.18,78.02L462.52,77.13L463.84,76.25L465.14,75.37L466.41,74.50L467.65,73.65L468.84,72.82L469.98,72.02L471.07,71.27L472.13,70.53L473.17,69.81L474.20,69.09L475.22,68.35L476.24,67.60L477.26,66.82L478.29,65.99L479.35,65.12L480.42,64.18L481.53,63.19L482.64,62.13L483.78,61.04L484.94,59.90L486.11,58.72L487.29,57.51L488.47,56.26L489.65,54.97L490.83,53.66L491.99,52.33L493.14,50.97L494.26,49.59L495.35,48.19L496.43,46.78L497.47,45.35L498.50,43.89L499.51,42.42L500.50,40.92L501.47,39.40L502.44,37.87L503.40,36.32L504.36,34.74L505.31,33.16L506.27,31.55L507.24,29.92L508.24,28.20L509.29,26.37L510.35,24.46L511.43,22.50L512.50,20.52L513.55,18.56L514.58,16.64L515.56,14.79L516.49,13.04L517.34,11.43L518.11,9.99L518.79,8.74L519.37,7.67L519.87,6.73L520.31,5.93L520.68,5.24L520.99,4.66L521.26,4.16L521.49,3.73L521.68,3.37L521.85,3.05L522.01,2.76L522.15,2.49L522.29,2.23" stroke="#f5bb3f" stroke-width="1.1"/><path d="M406.86,98.65L407.48,98.40L408.25,98.07L409.15,97.69L410.16,97.27L411.26,96.80L412.43,96.31L413.67,95.79L414.93,95.27L416.22,94.74L417.50,94.22L418.77,93.72L420.00,93.24L421.23,92.78L422.49,92.33L423.77,91.89L425.06,91.46L426.36,91.03L427.66,90.60L428.97,90.16L430.28,89.70L431.58,89.23L432.87,88.74L434.15,88.22L435.42,87.67L436.69,87.09L437.96,86.48L439.24,85.84L440.52,85.19L441.81,84.51L443.09,83.82L444.38,83.11L445.67,82.38L446.96,81.64L448.25,80.89L449.55,80.13L450.84,79.36L452.14,78.58L453.45,77.77L454.78,76.94L456.12,76.09L457.45,75.23L458.78,74.36L460.10,73.49L461.40,72.62L462.68,71.75L463.94,70.89L465.16,70.05L466.34,69.23L467.49,68.43L468.59,67.67L469.64,66.94L470.67,66.23L471.66,65.53L472.64,64.82L473.60,64.11L474.57,63.37L475.53,62.60L476.52,61.78L477.53,60.91L478.57,59.97L479.65,58.96L480.76,57.91L481.90,56.81L483.04,55.68L484.19,54.51L485.35,53.31L486.50,52.08L487.64,50.82L488.77,49.55L489.89,48.25L490.97,46.94L492.03,45.61L493.05,44.27L494.05,42.89L495.04,41.49L496.01,40.07L496.97,38.62L497.92,37.14L498.87,35.64L499.81,34.11L500.75,32.56L501.70,30.99L502.65,29.39L503.61,27.78L504.59,26.10L505.62,24.30L506.67,22.42L507.73,20.48L508.79,18.52L509.84,16.57L510.86,14.66L511.84,12.81L512.77,11.07L513.63,9.45L514.40,8.00L515.08,6.73L515.67,5.66L516.17,4.73L516.60,3.93L516.97,3.25L517.28,2.66L517.55,2.17L517.77,1.75L517.97,1.39L518.14,1.07L518.29,0.78L518.44,0.51L518.58,0.24" stroke="#a6cb62" stroke-width="1.0"/><path d="M408.14,101.75L408.77,101.48L409.55,101.16L410.45,100.78L411.46,100.35L412.56,99.89L413.73,99.39L414.95,98.88L416.21,98.36L417.48,97.84L418.75,97.33L420.00,96.83L421.20,96.36L422.38,95.92L423.59,95.49L424.84,95.07L426.11,94.64L427.41,94.21L428.73,93.77L430.06,93.33L431.40,92.86L432.75,92.37L434.10,91.86L435.44,91.31L436.78,90.73L438.11,90.12L439.43,89.49L440.75,88.83L442.06,88.16L443.38,87.47L444.70,86.76L446.01,86.03L447.32,85.29L448.63,84.54L449.94,83.78L451.25,83.01L452.56,82.24L453.88,81.44L455.22,80.62L456.57,79.77L457.92,78.91L459.27,78.04L460.62,77.16L461.95,76.28L463.27,75.40L464.57,74.52L465.83,73.65L467.07,72.80L468.26,71.97L469.40,71.18L470.49,70.42L471.55,69.69L472.59,68.97L473.60,68.25L474.61,67.53L475.62,66.78L476.63,66.01L477.65,65.20L478.68,64.33L479.74,63.42L480.83,62.43L481.94,61.39L483.07,60.30L484.22,59.18L485.39,58.01L486.56,56.80L487.74,55.56L488.91,54.30L490.08,53.00L491.24,51.68L492.37,50.33L493.49,48.97L494.57,47.59L495.63,46.19L496.67,44.77L497.69,43.33L498.69,41.87L499.67,40.38L500.64,38.87L501.60,37.35L502.56,35.80L503.51,34.23L504.47,32.65L505.42,31.04L506.39,29.42L507.39,27.71L508.43,25.88L509.49,23.98L510.56,22.03L511.63,20.05L512.68,18.09L513.71,16.17L514.69,14.32L515.62,12.58L516.47,10.96L517.24,9.52L517.92,8.27L518.50,7.20L519.00,6.26L519.44,5.46L519.81,4.78L520.12,4.19L520.39,3.69L520.62,3.27L520.81,2.90L520.98,2.58L521.13,2.30L521.28,2.03L521.42,1.76" stroke="#a6cb62" stroke-width="1.0"/><path d="M407.19,99.45L407.81,99.19L408.58,98.87L409.48,98.49L410.49,98.06L411.59,97.60L412.77,97.10L414.00,96.59L415.26,96.07L416.54,95.54L417.82,95.02L419.09,94.52L420.31,94.04L421.53,93.59L422.78,93.15L424.04,92.71L425.33,92.28L426.63,91.85L427.94,91.42L429.25,90.98L430.57,90.52L431.88,90.04L433.19,89.54L434.48,89.02L435.77,88.46L437.05,87.87L438.34,87.25L439.63,86.62L440.92,85.96L442.21,85.27L443.51,84.58L444.80,83.86L446.10,83.13L447.39,82.39L448.69,81.64L449.99,80.87L451.28,80.10L452.59,79.32L453.91,78.51L455.24,77.67L456.58,76.82L457.92,75.96L459.25,75.09L460.58,74.21L461.88,73.34L463.17,72.47L464.43,71.61L465.65,70.76L466.84,69.94L467.98,69.14L469.08,68.38L470.14,67.65L471.16,66.94L472.16,66.23L473.15,65.52L474.12,64.80L475.10,64.05L476.08,63.27L477.08,62.44L478.10,61.56L479.15,60.60L480.24,59.59L481.36,58.53L482.50,57.42L483.65,56.28L484.80,55.10L485.97,53.89L487.12,52.65L488.27,51.39L489.41,50.10L490.53,48.79L491.62,47.46L492.68,46.12L493.72,44.76L494.73,43.38L495.72,41.97L496.70,40.53L497.67,39.07L498.62,37.59L499.57,36.08L500.52,34.55L501.47,32.99L502.41,31.42L503.37,29.82L504.33,28.20L505.32,26.51L506.34,24.71L507.39,22.82L508.46,20.88L509.52,18.92L510.57,16.96L511.60,15.05L512.58,13.20L513.50,11.46L514.36,9.84L515.13,8.39L515.81,7.13L516.40,6.05L516.90,5.13L517.33,4.33L517.70,3.64L518.02,3.06L518.28,2.56L518.51,2.14L518.70,1.78L518.87,1.46L519.02,1.17L519.17,0.90L519.31,0.63" stroke="#17a3b5" stroke-width="1.2"/><path d="M407.81,100.95L408.44,100.69L409.21,100.36L410.11,99.98L411.12,99.55L412.22,99.09L413.39,98.60L414.62,98.09L415.88,97.56L417.15,97.04L418.43,96.53L419.68,96.03L420.89,95.56L422.08,95.11L423.31,94.68L424.56,94.25L425.84,93.82L427.14,93.39L428.45,92.96L429.78,92.51L431.11,92.04L432.44,91.56L433.78,91.05L435.11,90.51L436.43,89.94L437.74,89.34L439.05,88.71L440.36,88.06L441.67,87.39L442.97,86.70L444.28,86.00L445.59,85.28L446.90,84.54L448.20,83.79L449.51,83.04L450.81,82.27L452.12,81.50L453.43,80.70L454.76,79.88L456.11,79.04L457.46,78.19L458.80,77.32L460.15,76.44L461.48,75.56L462.79,74.68L464.08,73.81L465.34,72.94L466.57,72.09L467.76,71.26L468.90,70.47L470.00,69.71L471.06,68.98L472.09,68.26L473.10,67.55L474.10,66.83L475.10,66.09L476.10,65.33L477.10,64.53L478.12,63.68L479.17,62.77L480.25,61.80L481.35,60.76L482.48,59.69L483.62,58.57L484.78,57.41L485.95,56.21L487.12,54.98L488.29,53.72L489.45,52.44L490.60,51.13L491.73,49.79L492.84,48.44L493.92,47.08L494.97,45.69L496.00,44.29L497.00,42.86L498.00,41.40L498.97,39.92L499.94,38.43L500.90,36.90L501.85,35.36L502.80,33.80L503.75,32.22L504.71,30.62L505.67,29.00L506.67,27.29L507.70,25.48L508.76,23.58L509.83,21.63L510.90,19.66L511.95,17.70L512.97,15.78L513.96,13.93L514.88,12.19L515.74,10.57L516.51,9.13L517.19,7.87L517.77,6.80L518.27,5.87L518.71,5.07L519.08,4.38L519.39,3.80L519.66,3.30L519.88,2.88L520.08,2.51L520.25,2.19L520.40,1.91L520.54,1.64L520.69,1.37" stroke="#17a3b5" stroke-width="1.2"/><path d="M407.50,100.20L408.13,99.94L408.90,99.61L409.80,99.23L410.81,98.81L411.91,98.34L413.08,97.85L414.31,97.34L415.57,96.81L416.85,96.29L418.13,95.77L419.38,95.27L420.60,94.80L421.81,94.35L423.04,93.91L424.30,93.48L425.59,93.05L426.88,92.62L428.19,92.19L429.51,91.74L430.84,91.28L432.16,90.80L433.48,90.30L434.80,89.77L436.10,89.20L437.40,88.60L438.69,87.98L439.99,87.34L441.29,86.67L442.59,85.99L443.89,85.29L445.19,84.57L446.50,83.84L447.80,83.09L449.10,82.34L450.40,81.57L451.70,80.80L453.01,80.01L454.34,79.19L455.68,78.36L457.02,77.50L458.36,76.64L459.70,75.76L461.03,74.88L462.34,74.01L463.62,73.14L464.89,72.27L466.11,71.43L467.30,70.60L468.44,69.81L469.54,69.05L470.60,68.32L471.63,67.60L472.63,66.89L473.63,66.17L474.61,65.44L475.60,64.69L476.59,63.90L477.60,63.06L478.63,62.16L479.70,61.20L480.80,60.18L481.92,59.11L483.06,58.00L484.21,56.84L485.38,55.66L486.54,54.44L487.71,53.19L488.86,51.91L490.01,50.61L491.13,49.29L492.23,47.95L493.30,46.60L494.34,45.23L495.36,43.83L496.36,42.41L497.35,40.97L498.32,39.50L499.28,38.01L500.24,36.49L501.19,34.96L502.13,33.40L503.08,31.82L504.04,30.22L505.00,28.60L505.99,26.90L507.02,25.09L508.08,23.20L509.14,21.26L510.21,19.29L511.26,17.33L512.29,15.41L513.27,13.57L514.19,11.82L515.05,10.21L515.82,8.76L516.50,7.50L517.08,6.43L517.59,5.50L518.02,4.70L518.39,4.01L518.70,3.43L518.97,2.93L519.19,2.51L519.39,2.14L519.56,1.83L519.71,1.54L519.86,1.27L520.00,1.00" stroke="#7fd0ee" stroke-width="0.8"/></g><g fill="none" clip-path="url(#cR)" stroke-linejoin="round"><path d="M409.60,100.95L409.62,101.95L409.64,103.23L409.65,104.74L409.66,106.42L409.68,108.24L409.71,110.15L409.74,112.10L409.79,114.04L409.86,115.93L409.94,117.71L410.05,119.34L410.19,120.77L410.34,122.03L410.51,123.21L410.69,124.29L410.88,125.31L411.09,126.28L411.32,127.22L411.57,128.15L411.84,129.09L412.13,130.06L412.46,131.08L412.81,132.16L413.19,133.30L413.59,134.50L414.03,135.72L414.49,136.97L414.98,138.25L415.49,139.56L416.03,140.88L416.58,142.21L417.15,143.55L417.73,144.89L418.32,146.23L418.91,147.57L419.50,148.89L420.10,150.20L420.72,151.52L421.35,152.83L421.99,154.15L422.64,155.48L423.31,156.80L423.98,158.13L424.66,159.46L425.35,160.79L426.04,162.12L426.74,163.44L427.44,164.77L428.15,166.09L428.87,167.42L429.60,168.76L430.34,170.10L431.08,171.44L431.83,172.78L432.58,174.11L433.33,175.43L434.08,176.75L434.83,178.05L435.57,179.33L436.30,180.60L437.04,181.87L437.81,183.17L438.60,184.50L439.40,185.83L440.20,187.16L440.98,188.45L441.74,189.71L442.48,190.91L443.16,192.04L443.80,193.09L444.38,194.03L444.88,194.86L445.30,195.55L445.65,196.11L445.93,196.57L446.16,196.94L446.35,197.24L446.51,197.48L446.65,197.69L446.78,197.89L446.91,198.09L447.05,198.31L447.21,198.57L447.39,198.87L447.58,199.20L447.79,199.55L447.99,199.89L448.19,200.24L448.38,200.58L448.57,200.92L448.75,201.24L448.92,201.53L449.07,201.81L449.21,202.05L449.32,202.25L449.41,202.41" stroke="#f5bb3f" stroke-width="1.1"/><path d="M405.20,101.05L405.22,102.02L405.24,103.28L405.25,104.78L405.26,106.46L405.28,108.30L405.31,110.22L405.34,112.20L405.39,114.18L405.46,116.12L405.55,117.97L405.67,119.69L405.81,121.23L405.98,122.61L406.16,123.87L406.36,125.06L406.57,126.19L406.80,127.26L407.06,128.30L407.33,129.33L407.62,130.34L407.93,131.37L408.27,132.43L408.63,133.53L409.01,134.70L409.43,135.94L409.89,137.22L410.37,138.52L410.88,139.85L411.41,141.19L411.96,142.55L412.52,143.91L413.10,145.28L413.69,146.65L414.29,148.01L414.89,149.37L415.50,150.71L416.11,152.05L416.74,153.40L417.38,154.74L418.04,156.09L418.70,157.44L419.38,158.78L420.06,160.13L420.75,161.47L421.45,162.82L422.15,164.16L422.85,165.50L423.56,166.83L424.27,168.17L425.00,169.52L425.74,170.88L426.49,172.23L427.24,173.59L428.00,174.93L428.75,176.28L429.51,177.61L430.27,178.93L431.02,180.24L431.76,181.53L432.50,182.80L433.25,184.09L434.03,185.42L434.82,186.76L435.63,188.10L436.43,189.43L437.22,190.73L437.98,192.00L438.72,193.20L439.41,194.33L440.04,195.38L440.62,196.32L441.12,197.14L441.55,197.84L441.90,198.42L442.20,198.90L442.44,199.29L442.65,199.61L442.82,199.87L442.96,200.09L443.08,200.28L443.20,200.46L443.32,200.65L443.45,200.86L443.61,201.13L443.80,201.44L443.98,201.76L444.18,202.09L444.37,202.43L444.56,202.76L444.74,203.08L444.92,203.39L445.08,203.69L445.23,203.96L445.37,204.20L445.49,204.41L445.59,204.59" stroke="#f5bb3f" stroke-width="1.1"/><path d="M408.76,100.97L408.78,101.97L408.80,103.24L408.81,104.75L408.83,106.43L408.84,108.25L408.87,110.17L408.91,112.12L408.96,114.07L409.02,115.97L409.11,117.76L409.22,119.41L409.36,120.86L409.51,122.14L409.68,123.33L409.86,124.44L410.06,125.48L410.28,126.47L410.51,127.43L410.76,128.37L411.04,129.33L411.34,130.31L411.66,131.33L412.01,132.42L412.39,133.57L412.80,134.77L413.24,136.00L413.71,137.27L414.20,138.56L414.72,139.87L415.26,141.20L415.81,142.53L416.38,143.88L416.96,145.23L417.55,146.57L418.15,147.91L418.74,149.24L419.35,150.55L419.96,151.87L420.60,153.20L421.24,154.52L421.90,155.85L422.56,157.18L423.24,158.51L423.92,159.84L424.61,161.17L425.30,162.50L426.00,163.83L426.70,165.16L427.41,166.49L428.13,167.82L428.86,169.16L429.60,170.51L430.35,171.85L431.10,173.19L431.85,174.52L432.61,175.85L433.36,177.16L434.11,178.46L434.85,179.75L435.58,181.01L436.32,182.29L437.10,183.60L437.89,184.93L438.68,186.26L439.48,187.59L440.27,188.89L441.03,190.14L441.76,191.35L442.45,192.48L443.09,193.52L443.66,194.46L444.17,195.29L444.59,195.98L444.94,196.55L445.22,197.01L445.46,197.39L445.65,197.69L445.81,197.93L445.95,198.15L446.07,198.34L446.20,198.54L446.34,198.76L446.49,199.01L446.67,199.30L446.87,199.63L447.06,199.97L447.26,200.31L447.46,200.66L447.66,201.00L447.84,201.33L448.02,201.65L448.19,201.94L448.34,202.22L448.48,202.46L448.59,202.66L448.69,202.83" stroke="#6cbf8a" stroke-width="0.8"/><path d="M406.04,101.03L406.06,102.01L406.07,103.27L406.09,104.77L406.10,106.46L406.12,108.29L406.14,110.21L406.18,112.18L406.23,114.15L406.30,116.08L406.39,117.92L406.50,119.62L406.64,121.14L406.81,122.50L406.99,123.75L407.18,124.91L407.39,126.02L407.62,127.08L407.87,128.10L408.13,129.10L408.42,130.11L408.73,131.12L409.07,132.17L409.42,133.27L409.81,134.43L410.22,135.67L410.67,136.93L411.15,138.23L411.66,139.55L412.19,140.88L412.73,142.23L413.29,143.59L413.87,144.95L414.46,146.31L415.05,147.67L415.66,149.02L416.26,150.36L416.87,151.70L417.50,153.04L418.14,154.38L418.79,155.72L419.45,157.07L420.13,158.41L420.81,159.75L421.50,161.09L422.19,162.43L422.89,163.77L423.59,165.11L424.30,166.44L425.01,167.78L425.74,169.12L426.47,170.48L427.22,171.83L427.97,173.18L428.72,174.52L429.48,175.87L430.24,177.20L430.99,178.52L431.74,179.82L432.48,181.11L433.22,182.39L433.97,183.67L434.75,184.99L435.54,186.33L436.35,187.67L437.15,189.00L437.93,190.30L438.70,191.56L439.43,192.77L440.12,193.90L440.76,194.94L441.33,195.88L441.83,196.71L442.26,197.41L442.61,197.98L442.91,198.46L443.15,198.84L443.35,199.16L443.52,199.42L443.66,199.63L443.79,199.83L443.90,200.01L444.03,200.20L444.16,200.43L444.33,200.70L444.52,201.01L444.71,201.34L444.90,201.67L445.09,202.01L445.28,202.34L445.47,202.67L445.64,202.98L445.81,203.28L445.96,203.55L446.10,203.79L446.22,204.00L446.31,204.17" stroke="#6cbf8a" stroke-width="0.8"/><path d="M408.13,100.98L408.15,101.98L408.16,103.25L408.18,104.75L408.19,106.44L408.21,108.26L408.23,110.18L408.27,112.13L408.32,114.09L408.39,115.99L408.47,117.80L408.58,119.46L408.72,120.92L408.88,122.22L409.05,123.43L409.24,124.55L409.44,125.60L409.65,126.61L409.89,127.58L410.15,128.55L410.43,129.51L410.73,130.50L411.05,131.53L411.41,132.61L411.79,133.77L412.20,134.98L412.64,136.22L413.11,137.49L413.61,138.79L414.13,140.11L414.67,141.44L415.22,142.78L415.79,144.13L416.38,145.48L416.97,146.83L417.56,148.17L418.16,149.50L418.77,150.82L419.39,152.15L420.02,153.47L420.67,154.80L421.32,156.13L421.99,157.47L422.67,158.80L423.35,160.13L424.04,161.47L424.74,162.80L425.44,164.13L426.14,165.46L426.85,166.79L427.57,168.13L428.31,169.47L429.05,170.82L429.79,172.16L430.55,173.50L431.30,174.84L432.05,176.16L432.80,177.48L433.55,178.78L434.29,180.07L435.03,181.34L435.77,182.61L436.55,183.93L437.34,185.26L438.14,186.59L438.94,187.92L439.72,189.22L440.48,190.48L441.22,191.68L441.91,192.81L442.54,193.85L443.12,194.80L443.62,195.62L444.04,196.32L444.39,196.89L444.68,197.35L444.92,197.73L445.11,198.03L445.27,198.28L445.41,198.49L445.54,198.69L445.66,198.89L445.80,199.10L445.95,199.34L446.12,199.63L446.32,199.95L446.51,200.29L446.71,200.63L446.91,200.97L447.10,201.31L447.29,201.64L447.47,201.96L447.63,202.26L447.79,202.53L447.92,202.77L448.04,202.98L448.13,203.14" stroke="#17a3b5" stroke-width="1.4"/><path d="M406.67,101.02L406.70,102.00L406.71,103.26L406.72,104.76L406.74,106.45L406.75,108.28L406.78,110.20L406.82,112.17L406.87,114.13L406.93,116.05L407.02,117.88L407.14,119.57L407.28,121.08L407.44,122.41L407.62,123.65L407.81,124.80L408.01,125.89L408.24,126.93L408.48,127.94L408.75,128.93L409.03,129.92L409.34,130.93L409.67,131.97L410.03,133.07L410.41,134.23L410.83,135.46L411.27,136.72L411.75,138.00L412.25,139.31L412.78,140.64L413.32,141.99L413.88,143.34L414.46,144.70L415.04,146.06L415.64,147.42L416.24,148.76L416.84,150.10L417.45,151.43L418.07,152.77L418.71,154.10L419.36,155.44L420.02,156.78L420.70,158.12L421.38,159.46L422.06,160.80L422.76,162.14L423.45,163.47L424.15,164.81L424.86,166.14L425.57,167.48L426.30,168.82L427.03,170.17L427.78,171.52L428.53,172.87L429.28,174.21L430.04,175.55L430.79,176.88L431.55,178.20L432.29,179.51L433.04,180.79L433.77,182.06L434.52,183.35L435.30,184.66L436.09,186.00L436.89,187.34L437.69,188.67L438.48,189.97L439.24,191.23L439.98,192.43L440.67,193.56L441.30,194.61L441.88,195.55L442.38,196.38L442.80,197.07L443.16,197.65L443.45,198.12L443.69,198.50L443.89,198.81L444.05,199.07L444.19,199.29L444.32,199.48L444.44,199.67L444.57,199.87L444.71,200.10L444.88,200.37L445.07,200.69L445.26,201.02L445.45,201.35L445.65,201.69L445.84,202.03L446.02,202.36L446.20,202.67L446.37,202.97L446.52,203.24L446.66,203.48L446.77,203.69L446.87,203.86" stroke="#17a3b5" stroke-width="1.4"/><path d="M407.40,101.00L407.42,101.99L407.44,103.26L407.45,104.76L407.46,106.44L407.48,108.27L407.51,110.19L407.54,112.15L407.59,114.11L407.66,116.02L407.75,117.84L407.86,119.51L408.00,121.00L408.16,122.32L408.33,123.54L408.52,124.68L408.73,125.75L408.95,126.77L409.19,127.76L409.45,128.74L409.73,129.72L410.03,130.72L410.36,131.75L410.72,132.84L411.10,134.00L411.51,135.22L411.96,136.47L412.43,137.75L412.93,139.05L413.45,140.37L413.99,141.71L414.55,143.06L415.13,144.41L415.71,145.77L416.30,147.12L416.90,148.47L417.50,149.80L418.11,151.13L418.73,152.46L419.37,153.79L420.01,155.12L420.67,156.46L421.34,157.79L422.02,159.13L422.71,160.47L423.40,161.80L424.10,163.14L424.80,164.47L425.50,165.80L426.21,167.13L426.93,168.47L427.67,169.82L428.41,171.17L429.16,172.51L429.91,173.86L430.67,175.19L431.42,176.52L432.18,177.84L432.92,179.14L433.67,180.43L434.40,181.70L435.15,182.98L435.92,184.30L436.71,185.63L437.51,186.97L438.31,188.29L439.10,189.59L439.86,190.85L440.60,192.06L441.29,193.19L441.92,194.23L442.50,195.17L443.00,196.00L443.42,196.70L443.78,197.27L444.07,197.74L444.30,198.11L444.50,198.42L444.66,198.68L444.80,198.89L444.93,199.09L445.05,199.28L445.18,199.48L445.33,199.72L445.50,200.00L445.69,200.32L445.89,200.65L446.08,200.99L446.28,201.33L446.47,201.67L446.66,202.00L446.83,202.32L447.00,202.61L447.15,202.88L447.29,203.12L447.40,203.33L447.50,203.50" stroke="#9fdcf0" stroke-width="0.8"/></g><g fill="none" clip-path="url(#cR)" stroke-linejoin="round"><path d="M458.64,201.82L458.80,201.57L458.98,201.30L459.16,201.05L459.35,200.78L459.55,200.49L459.77,200.16L460.02,199.78L460.30,199.32L460.62,198.78L460.99,198.15L461.40,197.42L461.86,196.57L462.37,195.58L462.95,194.44L463.58,193.17L464.26,191.79L464.98,190.33L465.73,188.80L466.50,187.23L467.30,185.64L468.12,184.04L468.94,182.45L469.76,180.91L470.58,179.43L471.39,177.99L472.21,176.56L473.03,175.13L473.87,173.70L474.72,172.27L475.58,170.84L476.47,169.41L477.37,167.97L478.29,166.54L479.24,165.11L480.21,163.67L481.20,162.24L482.22,160.80L483.26,159.35L484.33,157.89L485.42,156.43L486.53,154.97L487.65,153.51L488.80,152.06L489.95,150.62L491.12,149.21L492.30,147.82L493.48,146.45L494.67,145.12L495.86,143.82L497.08,142.52L498.31,141.23L499.56,139.96L500.82,138.70L502.08,137.47L503.35,136.27L504.62,135.10L505.89,133.97L507.16,132.88L508.41,131.84L509.66,130.86L510.90,129.93L512.13,129.06L513.35,128.25L514.56,127.50L515.75,126.79L516.94,126.11L518.13,125.47L519.30,124.85L520.48,124.24L521.65,123.65L522.81,123.05L524.00,122.44L525.23,121.81L526.53,121.17L527.86,120.54L529.21,119.91L530.55,119.29L531.88,118.69L533.18,118.12L534.44,117.57L535.63,117.05L536.74,116.58L537.75,116.15L538.66,115.77L539.48,115.43L540.23,115.14L540.91,114.90L541.52,114.69L542.07,114.51L542.56,114.37L542.99,114.25L543.37,114.16L543.69,114.08L543.96,114.01L544.16,113.96L544.36,113.89" stroke="#f5bb3f" stroke-width="1.1"/><path d="M462.36,204.18L462.48,203.98L462.61,203.79L462.77,203.56L462.96,203.29L463.19,202.96L463.44,202.58L463.73,202.13L464.06,201.61L464.41,201.01L464.81,200.33L465.25,199.54L465.74,198.63L466.29,197.59L466.88,196.41L467.53,195.12L468.21,193.73L468.93,192.27L469.67,190.75L470.44,189.19L471.23,187.62L472.03,186.05L472.83,184.50L473.63,183.01L474.42,181.57L475.22,180.17L476.02,178.76L476.83,177.35L477.66,175.94L478.49,174.54L479.34,173.13L480.20,171.73L481.08,170.34L481.98,168.94L482.90,167.55L483.84,166.15L484.80,164.76L485.80,163.36L486.82,161.94L487.87,160.51L488.93,159.07L490.02,157.64L491.12,156.22L492.24,154.80L493.36,153.41L494.50,152.03L495.64,150.68L496.79,149.36L497.93,148.08L499.09,146.81L500.28,145.54L501.47,144.29L502.69,143.05L503.91,141.83L505.13,140.64L506.35,139.48L507.58,138.36L508.79,137.28L509.99,136.25L511.18,135.26L512.34,134.34L513.48,133.49L514.61,132.70L515.73,131.95L516.84,131.26L517.96,130.59L519.08,129.96L520.21,129.35L521.34,128.75L522.49,128.16L523.65,127.57L524.82,126.97L526.00,126.36L527.20,125.75L528.45,125.13L529.74,124.51L531.05,123.90L532.37,123.30L533.68,122.71L534.96,122.14L536.19,121.60L537.36,121.10L538.46,120.63L539.46,120.20L540.34,119.83L541.11,119.52L541.78,119.26L542.37,119.05L542.89,118.87L543.35,118.72L543.76,118.60L544.12,118.51L544.44,118.42L544.75,118.35L545.05,118.27L545.36,118.19L545.64,118.11" stroke="#f5bb3f" stroke-width="1.1"/><path d="M459.35,202.27L459.50,202.03L459.67,201.78L459.85,201.52L460.03,201.26L460.24,200.96L460.47,200.62L460.72,200.22L461.01,199.76L461.34,199.21L461.71,198.57L462.13,197.82L462.60,196.96L463.12,195.96L463.70,194.81L464.33,193.54L465.01,192.16L465.73,190.70L466.48,189.17L467.25,187.60L468.05,186.01L468.86,184.42L469.68,182.84L470.50,181.31L471.31,179.83L472.12,178.41L472.93,176.98L473.75,175.56L474.59,174.13L475.44,172.70L476.30,171.28L477.18,169.85L478.08,168.42L478.99,167.00L479.93,165.57L480.90,164.14L481.88,162.72L482.90,161.29L483.93,159.84L485.00,158.39L486.08,156.93L487.19,155.47L488.31,154.02L489.45,152.58L490.60,151.15L491.76,149.74L492.93,148.36L494.11,147.01L495.29,145.69L496.48,144.39L497.69,143.09L498.91,141.81L500.15,140.54L501.40,139.30L502.66,138.07L503.92,136.88L505.18,135.72L506.44,134.60L507.69,133.52L508.94,132.49L510.17,131.52L511.39,130.61L512.60,129.75L513.80,128.96L514.99,128.21L516.17,127.51L517.35,126.84L518.52,126.21L519.69,125.59L520.86,124.99L522.03,124.39L523.20,123.80L524.38,123.19L525.61,122.56L526.90,121.92L528.22,121.29L529.56,120.67L530.90,120.05L532.23,119.45L533.52,118.88L534.77,118.33L535.96,117.82L537.06,117.35L538.07,116.92L538.98,116.54L539.79,116.21L540.52,115.92L541.18,115.68L541.78,115.48L542.31,115.31L542.78,115.17L543.21,115.06L543.57,114.97L543.89,114.89L544.17,114.82L544.39,114.76L544.61,114.69" stroke="#6cbf8a" stroke-width="0.8"/><path d="M461.65,203.73L461.78,203.52L461.92,203.32L462.09,203.08L462.28,202.81L462.50,202.49L462.75,202.12L463.03,201.68L463.34,201.18L463.69,200.59L464.09,199.91L464.52,199.13L465.00,198.24L465.54,197.21L466.14,196.04L466.78,194.75L467.46,193.36L468.18,191.90L468.92,190.38L469.70,188.82L470.48,187.24L471.29,185.67L472.09,184.11L472.89,182.61L473.69,181.17L474.49,179.75L475.30,178.34L476.11,176.93L476.94,175.52L477.78,174.11L478.63,172.70L479.49,171.29L480.38,169.89L481.28,168.48L482.20,167.08L483.15,165.68L484.12,164.28L485.12,162.87L486.14,161.45L487.19,160.01L488.26,158.57L489.36,157.13L490.46,155.70L491.58,154.28L492.72,152.88L493.86,151.49L495.01,150.13L496.16,148.81L497.31,147.51L498.48,146.24L499.67,144.97L500.87,143.71L502.09,142.46L503.32,141.24L504.55,140.04L505.78,138.87L507.02,137.74L508.24,136.65L509.45,135.61L510.65,134.61L511.83,133.68L512.99,132.81L514.14,132.01L515.28,131.25L516.41,130.54L517.54,129.87L518.67,129.23L519.81,128.61L520.95,128.01L522.10,127.41L523.27,126.82L524.44,126.22L525.62,125.61L526.83,125.00L528.09,124.38L529.38,123.76L530.70,123.14L532.03,122.54L533.34,121.95L534.62,121.38L535.86,120.84L537.03,120.33L538.13,119.86L539.14,119.43L540.02,119.06L540.80,118.74L541.48,118.48L542.09,118.26L542.63,118.07L543.11,117.92L543.53,117.80L543.90,117.70L544.24,117.61L544.55,117.53L544.85,117.46L545.14,117.38L545.39,117.31" stroke="#6cbf8a" stroke-width="0.8"/><path d="M459.89,202.61L460.04,202.38L460.20,202.14L460.37,201.89L460.56,201.62L460.77,201.32L461.00,200.97L461.26,200.56L461.56,200.09L461.89,199.53L462.27,198.88L462.69,198.13L463.16,197.26L463.68,196.25L464.27,195.10L464.90,193.82L465.58,192.44L466.30,190.98L467.05,189.45L467.82,187.89L468.62,186.30L469.43,184.71L470.24,183.14L471.06,181.61L471.87,180.15L472.67,178.72L473.48,177.30L474.31,175.88L475.14,174.45L475.98,173.03L476.84,171.61L477.72,170.19L478.61,168.77L479.53,167.34L480.46,165.92L481.42,164.50L482.41,163.08L483.41,161.66L484.45,160.22L485.51,158.77L486.59,157.32L487.70,155.86L488.82,154.42L489.95,152.98L491.10,151.56L492.25,150.15L493.42,148.78L494.59,147.43L495.76,146.11L496.95,144.82L498.15,143.53L499.37,142.26L500.61,140.99L501.85,139.75L503.10,138.53L504.36,137.34L505.61,136.19L506.86,135.08L508.11,134.01L509.34,132.99L510.56,132.03L511.76,131.12L512.96,130.28L514.14,129.49L515.32,128.76L516.49,128.06L517.66,127.40L518.82,126.77L519.99,126.16L521.15,125.56L522.32,124.96L523.49,124.36L524.67,123.75L525.89,123.13L527.17,122.50L528.49,121.87L529.82,121.24L531.16,120.63L532.49,120.04L533.78,119.46L535.03,118.92L536.21,118.41L537.31,117.94L538.32,117.51L539.22,117.13L540.02,116.80L540.75,116.52L541.40,116.29L541.98,116.09L542.50,115.92L542.96,115.79L543.37,115.68L543.73,115.58L544.05,115.51L544.32,115.44L544.56,115.37L544.79,115.31" stroke="#17a3b5" stroke-width="1.4"/><path d="M461.11,203.39L461.25,203.17L461.40,202.96L461.56,202.72L461.75,202.45L461.97,202.13L462.21,201.77L462.49,201.34L462.80,200.84L463.14,200.27L463.53,199.60L463.96,198.83L464.44,197.94L464.98,196.92L465.57,195.75L466.20,194.47L466.88,193.08L467.60,191.62L468.35,190.10L469.12,188.53L469.91,186.95L470.72,185.37L471.53,183.82L472.33,182.30L473.13,180.85L473.93,179.44L474.74,178.02L475.56,176.61L476.39,175.19L477.23,173.78L478.08,172.37L478.95,170.95L479.84,169.55L480.74,168.14L481.67,166.73L482.62,165.32L483.59,163.92L484.60,162.50L485.63,161.07L486.68,159.63L487.75,158.19L488.85,156.75L489.96,155.31L491.08,153.88L492.22,152.47L493.37,151.08L494.52,149.72L495.68,148.39L496.84,147.09L498.01,145.81L499.20,144.53L500.41,143.26L501.64,142.01L502.87,140.78L504.11,139.58L505.35,138.41L506.59,137.27L507.82,136.17L509.04,135.12L510.25,134.12L511.44,133.17L512.62,132.30L513.78,131.48L514.93,130.72L516.08,130.00L517.22,129.32L518.36,128.67L519.51,128.05L520.66,127.44L521.81,126.85L522.98,126.25L524.15,125.65L525.33,125.05L526.54,124.43L527.81,123.80L529.11,123.18L530.43,122.56L531.76,121.95L533.08,121.36L534.36,120.79L535.60,120.25L536.78,119.74L537.88,119.27L538.89,118.85L539.78,118.47L540.56,118.15L541.26,117.88L541.88,117.66L542.43,117.47L542.92,117.31L543.35,117.19L543.74,117.08L544.08,116.99L544.40,116.92L544.69,116.84L544.96,116.77L545.21,116.69" stroke="#17a3b5" stroke-width="1.4"/><path d="M460.50,203.00L460.64,202.78L460.80,202.55L460.97,202.30L461.16,202.03L461.37,201.73L461.61,201.37L461.88,200.95L462.18,200.47L462.52,199.90L462.90,199.24L463.33,198.48L463.80,197.60L464.33,196.58L464.92,195.43L465.55,194.15L466.23,192.76L466.95,191.30L467.70,189.77L468.47,188.21L469.27,186.63L470.07,185.04L470.88,183.48L471.69,181.96L472.50,180.50L473.30,179.08L474.11,177.66L474.93,176.24L475.76,174.82L476.61,173.40L477.46,171.99L478.34,170.57L479.23,169.16L480.14,167.74L481.07,166.33L482.02,164.91L483.00,163.50L484.01,162.08L485.04,160.64L486.10,159.20L487.17,157.75L488.27,156.30L489.39,154.86L490.52,153.43L491.66,152.01L492.81,150.62L493.97,149.25L495.13,147.91L496.30,146.60L497.48,145.31L498.68,144.03L499.89,142.76L501.12,141.50L502.36,140.27L503.61,139.06L504.85,137.88L506.10,136.73L507.34,135.62L508.57,134.56L509.80,133.55L511.00,132.60L512.19,131.71L513.37,130.88L514.54,130.10L515.70,129.38L516.86,128.69L518.01,128.04L519.17,127.41L520.32,126.80L521.48,126.20L522.65,125.61L523.82,125.01L525.00,124.40L526.22,123.78L527.49,123.15L528.80,122.53L530.13,121.90L531.46,121.29L532.78,120.70L534.07,120.13L535.31,119.59L536.50,119.08L537.60,118.60L538.61,118.18L539.50,117.80L540.29,117.48L541.00,117.20L541.64,116.97L542.20,116.78L542.71,116.62L543.16,116.49L543.55,116.38L543.91,116.29L544.22,116.21L544.51,116.14L544.76,116.07L545.00,116.00" stroke="#9fdcf0" stroke-width="0.8"/></g><rect x="331.4" y="12.1" width="75.40000000000003" height="109.0" fill="#fff" stroke="#5a5a5a" stroke-width="1.0"/><circle cx="346.5" cy="19.7" r="2.8" fill="#ffff00"/><text class="lg" x="361.5" y="24.4">N</text><circle cx="346.5" cy="33.1" r="2.8" fill="#00ff00"/><text class="lg" x="361.5" y="37.8">B</text><circle cx="346.5" cy="46.5" r="2.8" fill="#0000ff"/><text class="lg" x="361.5" y="51.2">IF</text><circle cx="346.5" cy="59.9" r="2.8" fill="#ff00ff"/><text class="lg" x="361.5" y="64.6">OF</text><rect x="344.9" y="71.7" width="3.2" height="3.2" fill="#ffff00"/><text class="lg" x="361.5" y="78.0">NCenter</text><rect x="344.9" y="85.1" width="3.2" height="3.2" fill="#00ff00"/><text class="lg" x="361.5" y="91.4">BCenter</text><rect x="344.9" y="98.5" width="3.2" height="3.2" fill="#0000ff"/><text class="lg" x="361.5" y="104.8">IFCenter</text><rect x="344.9" y="111.9" width="3.2" height="3.2" fill="#ff00ff"/><text class="lg" x="361.5" y="118.2">OFCenter</text><text class="cap" x="126.8" y="250">(<tspan>a</tspan>)</text><text class="cap" x="403.6" y="250">(<tspan>b</tspan>)</text></svg></body></html>
